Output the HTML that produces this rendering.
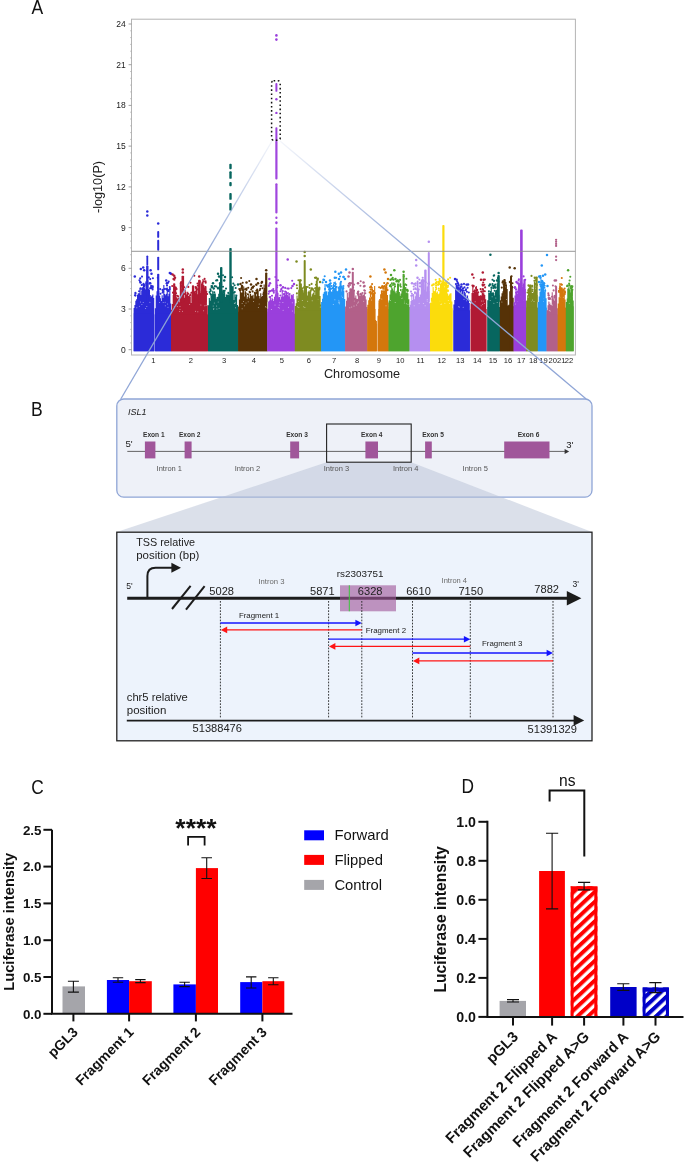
<!DOCTYPE html>
<html lang="en"><head><meta charset="utf-8"><title>Figure</title>
<style>
html,body{margin:0;padding:0;background:#fff;}
body{width:685px;height:1164px;overflow:hidden;}
svg{display:block;font-family:"Liberation Sans", Arial, sans-serif;}
</style></head><body>
<svg width="685" height="1164" viewBox="0 0 685 1164">
<rect width="685" height="1164" fill="#fff"/>
<g id="panelA">
<rect x="131.5" y="19.2" width="443.9" height="335.8" fill="#fff" stroke="#b4b4b4" stroke-width="1"/>
<line x1="128.6" y1="349.7" x2="131.5" y2="349.7" stroke="#8a8a8a" stroke-width="0.8"/>
<text x="125.8" y="352.7" font-size="8.5" text-anchor="end" fill="#1a1a1a">0</text>
<line x1="130" y1="342.9" x2="131.5" y2="342.9" stroke="#a8a8a8" stroke-width="0.6"/>
<line x1="130" y1="336.1" x2="131.5" y2="336.1" stroke="#a8a8a8" stroke-width="0.6"/>
<line x1="130" y1="329.3" x2="131.5" y2="329.3" stroke="#a8a8a8" stroke-width="0.6"/>
<line x1="130" y1="322.6" x2="131.5" y2="322.6" stroke="#a8a8a8" stroke-width="0.6"/>
<line x1="130" y1="315.8" x2="131.5" y2="315.8" stroke="#a8a8a8" stroke-width="0.6"/>
<line x1="128.6" y1="309.0" x2="131.5" y2="309.0" stroke="#8a8a8a" stroke-width="0.8"/>
<text x="125.8" y="312.0" font-size="8.5" text-anchor="end" fill="#1a1a1a">3</text>
<line x1="130" y1="302.2" x2="131.5" y2="302.2" stroke="#a8a8a8" stroke-width="0.6"/>
<line x1="130" y1="295.4" x2="131.5" y2="295.4" stroke="#a8a8a8" stroke-width="0.6"/>
<line x1="130" y1="288.6" x2="131.5" y2="288.6" stroke="#a8a8a8" stroke-width="0.6"/>
<line x1="130" y1="281.9" x2="131.5" y2="281.9" stroke="#a8a8a8" stroke-width="0.6"/>
<line x1="130" y1="275.1" x2="131.5" y2="275.1" stroke="#a8a8a8" stroke-width="0.6"/>
<line x1="128.6" y1="268.3" x2="131.5" y2="268.3" stroke="#8a8a8a" stroke-width="0.8"/>
<text x="125.8" y="271.3" font-size="8.5" text-anchor="end" fill="#1a1a1a">6</text>
<line x1="130" y1="261.5" x2="131.5" y2="261.5" stroke="#a8a8a8" stroke-width="0.6"/>
<line x1="130" y1="254.7" x2="131.5" y2="254.7" stroke="#a8a8a8" stroke-width="0.6"/>
<line x1="130" y1="247.9" x2="131.5" y2="247.9" stroke="#a8a8a8" stroke-width="0.6"/>
<line x1="130" y1="241.1" x2="131.5" y2="241.1" stroke="#a8a8a8" stroke-width="0.6"/>
<line x1="130" y1="234.4" x2="131.5" y2="234.4" stroke="#a8a8a8" stroke-width="0.6"/>
<line x1="128.6" y1="227.6" x2="131.5" y2="227.6" stroke="#8a8a8a" stroke-width="0.8"/>
<text x="125.8" y="230.6" font-size="8.5" text-anchor="end" fill="#1a1a1a">9</text>
<line x1="130" y1="220.8" x2="131.5" y2="220.8" stroke="#a8a8a8" stroke-width="0.6"/>
<line x1="130" y1="214.0" x2="131.5" y2="214.0" stroke="#a8a8a8" stroke-width="0.6"/>
<line x1="130" y1="207.2" x2="131.5" y2="207.2" stroke="#a8a8a8" stroke-width="0.6"/>
<line x1="130" y1="200.4" x2="131.5" y2="200.4" stroke="#a8a8a8" stroke-width="0.6"/>
<line x1="130" y1="193.6" x2="131.5" y2="193.6" stroke="#a8a8a8" stroke-width="0.6"/>
<line x1="128.6" y1="186.9" x2="131.5" y2="186.9" stroke="#8a8a8a" stroke-width="0.8"/>
<text x="125.8" y="189.9" font-size="8.5" text-anchor="end" fill="#1a1a1a">12</text>
<line x1="130" y1="180.1" x2="131.5" y2="180.1" stroke="#a8a8a8" stroke-width="0.6"/>
<line x1="130" y1="173.3" x2="131.5" y2="173.3" stroke="#a8a8a8" stroke-width="0.6"/>
<line x1="130" y1="166.5" x2="131.5" y2="166.5" stroke="#a8a8a8" stroke-width="0.6"/>
<line x1="130" y1="159.7" x2="131.5" y2="159.7" stroke="#a8a8a8" stroke-width="0.6"/>
<line x1="130" y1="152.9" x2="131.5" y2="152.9" stroke="#a8a8a8" stroke-width="0.6"/>
<line x1="128.6" y1="146.1" x2="131.5" y2="146.1" stroke="#8a8a8a" stroke-width="0.8"/>
<text x="125.8" y="149.1" font-size="8.5" text-anchor="end" fill="#1a1a1a">15</text>
<line x1="130" y1="139.4" x2="131.5" y2="139.4" stroke="#a8a8a8" stroke-width="0.6"/>
<line x1="130" y1="132.6" x2="131.5" y2="132.6" stroke="#a8a8a8" stroke-width="0.6"/>
<line x1="130" y1="125.8" x2="131.5" y2="125.8" stroke="#a8a8a8" stroke-width="0.6"/>
<line x1="130" y1="119.0" x2="131.5" y2="119.0" stroke="#a8a8a8" stroke-width="0.6"/>
<line x1="130" y1="112.2" x2="131.5" y2="112.2" stroke="#a8a8a8" stroke-width="0.6"/>
<line x1="128.6" y1="105.4" x2="131.5" y2="105.4" stroke="#8a8a8a" stroke-width="0.8"/>
<text x="125.8" y="108.4" font-size="8.5" text-anchor="end" fill="#1a1a1a">18</text>
<line x1="130" y1="98.7" x2="131.5" y2="98.7" stroke="#a8a8a8" stroke-width="0.6"/>
<line x1="130" y1="91.9" x2="131.5" y2="91.9" stroke="#a8a8a8" stroke-width="0.6"/>
<line x1="130" y1="85.1" x2="131.5" y2="85.1" stroke="#a8a8a8" stroke-width="0.6"/>
<line x1="130" y1="78.3" x2="131.5" y2="78.3" stroke="#a8a8a8" stroke-width="0.6"/>
<line x1="130" y1="71.5" x2="131.5" y2="71.5" stroke="#a8a8a8" stroke-width="0.6"/>
<line x1="128.6" y1="64.7" x2="131.5" y2="64.7" stroke="#8a8a8a" stroke-width="0.8"/>
<text x="125.8" y="67.7" font-size="8.5" text-anchor="end" fill="#1a1a1a">21</text>
<line x1="130" y1="57.9" x2="131.5" y2="57.9" stroke="#a8a8a8" stroke-width="0.6"/>
<line x1="130" y1="51.2" x2="131.5" y2="51.2" stroke="#a8a8a8" stroke-width="0.6"/>
<line x1="130" y1="44.4" x2="131.5" y2="44.4" stroke="#a8a8a8" stroke-width="0.6"/>
<line x1="130" y1="37.6" x2="131.5" y2="37.6" stroke="#a8a8a8" stroke-width="0.6"/>
<line x1="130" y1="30.8" x2="131.5" y2="30.8" stroke="#a8a8a8" stroke-width="0.6"/>
<line x1="128.6" y1="24.0" x2="131.5" y2="24.0" stroke="#8a8a8a" stroke-width="0.8"/>
<text x="125.8" y="27.0" font-size="8.5" text-anchor="end" fill="#1a1a1a">24</text>
<text transform="translate(102.2,187) rotate(-90)" font-size="12.7" text-anchor="middle" fill="#222">-log10(P)</text>
<text x="153.4" y="363" font-size="7.6" text-anchor="middle" fill="#222">1</text>
<text x="190.8" y="363" font-size="7.6" text-anchor="middle" fill="#222">2</text>
<text x="224.0" y="363" font-size="7.6" text-anchor="middle" fill="#222">3</text>
<text x="253.8" y="363" font-size="7.6" text-anchor="middle" fill="#222">4</text>
<text x="281.8" y="363" font-size="7.6" text-anchor="middle" fill="#222">5</text>
<text x="308.8" y="363" font-size="7.6" text-anchor="middle" fill="#222">6</text>
<text x="334.0" y="363" font-size="7.6" text-anchor="middle" fill="#222">7</text>
<text x="357.0" y="363" font-size="7.6" text-anchor="middle" fill="#222">8</text>
<text x="378.8" y="363" font-size="7.6" text-anchor="middle" fill="#222">9</text>
<text x="400.2" y="363" font-size="7.6" text-anchor="middle" fill="#222">10</text>
<text x="420.5" y="363" font-size="7.6" text-anchor="middle" fill="#222">11</text>
<text x="441.8" y="363" font-size="7.6" text-anchor="middle" fill="#222">12</text>
<text x="460.2" y="363" font-size="7.6" text-anchor="middle" fill="#222">13</text>
<text x="477.3" y="363" font-size="7.6" text-anchor="middle" fill="#222">14</text>
<text x="493.0" y="363" font-size="7.6" text-anchor="middle" fill="#222">15</text>
<text x="508.0" y="363" font-size="7.6" text-anchor="middle" fill="#222">16</text>
<text x="521.2" y="363" font-size="7.6" text-anchor="middle" fill="#222">17</text>
<text x="533.2" y="363" font-size="7.6" text-anchor="middle" fill="#222">18</text>
<text x="543.6" y="363" font-size="7.6" text-anchor="middle" fill="#222">19</text>
<text x="552.8" y="363" font-size="7.6" text-anchor="middle" fill="#222">20</text>
<text x="561.2" y="363" font-size="7.6" text-anchor="middle" fill="#222">21</text>
<text x="569.0" y="363" font-size="7.6" text-anchor="middle" fill="#222">22</text>
<text x="362.0" y="377.6" font-size="12.7" text-anchor="middle" fill="#222">Chromosome</text>
<path d="M133.6 351.2V308.0h1.1V351.2zM134.4 351.2V305.0h1.1V351.2zM135.3 351.2V300.7h1.1V351.2zM136.1 351.2V299.3h1.1V351.2zM137.0 351.2V294.8h1.1V351.2zM137.8 351.2V293.3h1.1V351.2zM138.7 351.2V293.3h1.1V351.2zM139.5 351.2V289.1h1.1V351.2zM140.4 351.2V295.1h1.1V351.2zM141.2 351.2V291.0h1.1V351.2zM142.1 351.2V287.2h1.1V351.2zM142.9 351.2V283.6h1.1V351.2zM143.8 351.2V288.1h1.1V351.2zM144.6 351.2V289.4h1.1V351.2zM145.5 351.2V281.2h1.1V351.2zM146.3 351.2V283.2h1.1V351.2zM147.2 351.2V280.4h1.1V351.2zM148.0 351.2V289.1h1.1V351.2zM148.9 351.2V289.4h1.1V351.2zM149.7 351.2V295.1h1.1V351.2zM150.6 351.2V296.7h1.1V351.2zM151.4 351.2V295.7h1.1V351.2zM152.3 351.2V294.4h1.1V351.2zM153.1 351.2V297.9h1.1V351.2zM154.8 351.2V308.3h1.1V351.2zM155.7 351.2V295.5h1.1V351.2zM156.5 351.2V291.2h1.1V351.2zM157.4 351.2V291.3h1.1V351.2zM158.2 351.2V291.2h1.1V351.2zM159.1 351.2V295.8h1.1V351.2zM159.9 351.2V298.3h1.1V351.2zM160.8 351.2V300.9h1.1V351.2zM161.6 351.2V295.2h1.1V351.2zM162.5 351.2V298.1h1.1V351.2zM163.3 351.2V284.9h1.1V351.2zM164.2 351.2V294.1h1.1V351.2zM165.0 351.2V295.3h1.1V351.2zM165.9 351.2V293.8h1.1V351.2zM166.7 351.2V287.6h1.1V351.2zM167.6 351.2V296.3h1.1V351.2zM168.4 351.2V293.7h1.1V351.2zM169.3 351.2V287.3h1.1V351.2zM170.1 351.2V303.5h1.1V351.2z" fill="#2b2bd8"/>
<rect x="133.8" y="313.2" width="19.9" height="38.0" fill="#2b2bd8"/>
<rect x="155.9" y="313.2" width="15.3" height="38.0" fill="#2b2bd8"/>
<rect x="153.5" y="314.4" width="0.8" height="36.8" fill="#2b2bd8"/>
<rect x="155.2" y="314.4" width="0.9" height="36.8" fill="#2b2bd8"/>
<g fill="#2b2bd8"><circle cx="147.4" cy="293.5" r="1.05"/><circle cx="144.7" cy="285.1" r="1.05"/><circle cx="168.7" cy="281.6" r="1.05"/><circle cx="169.8" cy="287.0" r="1.05"/><circle cx="142.6" cy="290.2" r="1.05"/><circle cx="142.0" cy="276.6" r="1.05"/><circle cx="164.6" cy="289.0" r="1.05"/><circle cx="163.1" cy="291.6" r="1.05"/><circle cx="167.0" cy="285.4" r="1.05"/><circle cx="151.7" cy="288.1" r="1.05"/><circle cx="148.8" cy="277.4" r="1.05"/><circle cx="160.5" cy="293.8" r="1.05"/><circle cx="140.2" cy="278.4" r="1.05"/><circle cx="158.1" cy="287.8" r="1.05"/><circle cx="139.4" cy="280.3" r="1.05"/><circle cx="157.8" cy="277.8" r="1.05"/><circle cx="150.2" cy="279.1" r="1.05"/><circle cx="142.3" cy="289.5" r="1.05"/><circle cx="143.3" cy="284.8" r="1.05"/><circle cx="149.6" cy="283.4" r="1.05"/><circle cx="147.3" cy="284.2" r="1.05"/><circle cx="166.8" cy="283.2" r="1.05"/><circle cx="152.6" cy="289.4" r="1.05"/><circle cx="135.5" cy="295.6" r="1.05"/><circle cx="134.9" cy="295.2" r="1.05"/><circle cx="151.6" cy="286.7" r="1.05"/><circle cx="146.3" cy="283.2" r="1.05"/><circle cx="162.6" cy="292.5" r="1.05"/><circle cx="143.6" cy="283.8" r="1.05"/><circle cx="152.8" cy="286.4" r="1.05"/><circle cx="167.1" cy="289.6" r="1.05"/><circle cx="152.7" cy="287.8" r="1.05"/><circle cx="150.8" cy="288.1" r="1.05"/><circle cx="168.1" cy="282.8" r="1.05"/><circle cx="168.2" cy="291.3" r="1.05"/><circle cx="168.2" cy="290.0" r="1.05"/><circle cx="139.1" cy="291.2" r="1.05"/><circle cx="143.3" cy="288.2" r="1.05"/><circle cx="162.6" cy="290.0" r="1.05"/><circle cx="160.2" cy="289.1" r="1.05"/><circle cx="166.1" cy="288.9" r="1.05"/><circle cx="168.5" cy="290.9" r="1.05"/><circle cx="169.8" cy="289.1" r="1.05"/><circle cx="150.1" cy="288.3" r="1.05"/><circle cx="141.7" cy="285.0" r="1.05"/><circle cx="135.5" cy="293.6" r="1.05"/><circle cx="135.4" cy="292.7" r="1.05"/><circle cx="152.9" cy="278.3" r="1.05"/><circle cx="162.7" cy="289.8" r="1.05"/><circle cx="144.2" cy="286.8" r="1.05"/><circle cx="144.4" cy="289.6" r="1.05"/><circle cx="167.1" cy="289.7" r="1.05"/><circle cx="140.1" cy="281.7" r="1.05"/></g>
<g fill="#fff" fill-opacity="0.6"><circle cx="159.6" cy="302.5" r="0.5"/><circle cx="136.8" cy="307.7" r="0.5"/><circle cx="149.9" cy="302.3" r="0.5"/><circle cx="168.0" cy="307.3" r="0.5"/><circle cx="163.2" cy="302.4" r="0.5"/><circle cx="165.1" cy="302.2" r="0.5"/><circle cx="165.3" cy="305.7" r="0.5"/><circle cx="146.8" cy="306.5" r="0.5"/><circle cx="167.6" cy="304.0" r="0.5"/><circle cx="139.4" cy="306.3" r="0.5"/><circle cx="143.2" cy="302.6" r="0.5"/><circle cx="140.5" cy="302.1" r="0.5"/><circle cx="141.9" cy="304.4" r="0.5"/><circle cx="145.6" cy="308.4" r="0.5"/></g>
<path d="M171.0 351.2V309.8h1.1V351.2zM171.8 351.2V304.0h1.1V351.2zM172.7 351.2V294.9h1.1V351.2zM173.5 351.2V286.8h1.1V351.2zM174.4 351.2V286.2h1.1V351.2zM175.2 351.2V287.0h1.1V351.2zM176.1 351.2V297.2h1.1V351.2zM176.9 351.2V298.4h1.1V351.2zM177.8 351.2V297.6h1.1V351.2zM178.6 351.2V302.2h1.1V351.2zM179.5 351.2V299.7h1.1V351.2zM180.3 351.2V297.0h1.1V351.2zM181.2 351.2V297.9h1.1V351.2zM182.0 351.2V294.2h1.1V351.2zM182.9 351.2V296.7h1.1V351.2zM183.7 351.2V297.7h1.1V351.2zM184.6 351.2V289.7h1.1V351.2zM185.4 351.2V291.7h1.1V351.2zM186.3 351.2V295.0h1.1V351.2zM187.1 351.2V291.7h1.1V351.2zM188.0 351.2V296.1h1.1V351.2zM188.8 351.2V295.7h1.1V351.2zM189.7 351.2V297.0h1.1V351.2zM190.5 351.2V303.0h1.1V351.2zM191.4 351.2V294.8h1.1V351.2zM192.2 351.2V294.1h1.1V351.2zM193.1 351.2V285.9h1.1V351.2zM193.9 351.2V291.2h1.1V351.2zM194.8 351.2V293.6h1.1V351.2zM195.6 351.2V286.5h1.1V351.2zM196.5 351.2V286.7h1.1V351.2zM197.3 351.2V294.3h1.1V351.2zM198.2 351.2V289.2h1.1V351.2zM199.0 351.2V291.6h1.1V351.2zM199.9 351.2V292.9h1.1V351.2zM200.7 351.2V290.9h1.1V351.2zM201.6 351.2V281.8h1.1V351.2zM202.4 351.2V279.1h1.1V351.2zM203.3 351.2V286.0h1.1V351.2zM204.1 351.2V287.5h1.1V351.2zM205.0 351.2V286.2h1.1V351.2zM205.8 351.2V291.3h1.1V351.2zM206.7 351.2V305.2h1.1V351.2z" fill="#b01a33"/>
<rect x="171.2" y="314.4" width="37.0" height="36.8" fill="#b01a33"/>
<g fill="#b01a33"><circle cx="182.8" cy="292.5" r="1.05"/><circle cx="183.3" cy="286.2" r="1.05"/><circle cx="198.5" cy="285.8" r="1.05"/><circle cx="204.6" cy="278.9" r="1.05"/><circle cx="182.3" cy="289.8" r="1.05"/><circle cx="207.2" cy="294.0" r="1.05"/><circle cx="187.2" cy="295.0" r="1.05"/><circle cx="175.8" cy="287.6" r="1.05"/><circle cx="204.9" cy="292.8" r="1.05"/><circle cx="190.1" cy="295.6" r="1.05"/><circle cx="205.7" cy="282.8" r="1.05"/><circle cx="194.3" cy="275.7" r="1.05"/><circle cx="191.4" cy="292.8" r="1.05"/><circle cx="197.8" cy="285.5" r="1.05"/><circle cx="194.8" cy="293.8" r="1.05"/><circle cx="204.6" cy="292.2" r="1.05"/><circle cx="184.2" cy="287.2" r="1.05"/><circle cx="206.4" cy="291.7" r="1.05"/><circle cx="182.7" cy="287.4" r="1.05"/><circle cx="178.1" cy="296.2" r="1.05"/><circle cx="203.9" cy="288.8" r="1.05"/><circle cx="203.9" cy="281.4" r="1.05"/><circle cx="177.1" cy="295.8" r="1.05"/><circle cx="184.2" cy="294.0" r="1.05"/><circle cx="181.2" cy="282.1" r="1.05"/><circle cx="198.4" cy="289.0" r="1.05"/><circle cx="190.5" cy="294.6" r="1.05"/><circle cx="174.4" cy="279.8" r="1.05"/><circle cx="176.6" cy="289.0" r="1.05"/><circle cx="202.4" cy="291.0" r="1.05"/><circle cx="180.9" cy="291.0" r="1.05"/><circle cx="205.6" cy="281.2" r="1.05"/><circle cx="173.0" cy="292.6" r="1.05"/><circle cx="203.5" cy="286.0" r="1.05"/><circle cx="172.2" cy="286.0" r="1.05"/><circle cx="180.9" cy="295.4" r="1.05"/><circle cx="190.5" cy="282.7" r="1.05"/><circle cx="197.5" cy="283.5" r="1.05"/><circle cx="188.2" cy="293.8" r="1.05"/><circle cx="199.6" cy="281.9" r="1.05"/><circle cx="194.8" cy="293.2" r="1.05"/><circle cx="181.0" cy="286.1" r="1.05"/><circle cx="176.1" cy="293.2" r="1.05"/><circle cx="192.6" cy="292.4" r="1.05"/><circle cx="193.2" cy="295.0" r="1.05"/><circle cx="188.3" cy="286.9" r="1.05"/><circle cx="203.1" cy="288.2" r="1.05"/><circle cx="180.8" cy="283.5" r="1.05"/><circle cx="183.0" cy="292.7" r="1.05"/><circle cx="195.8" cy="291.7" r="1.05"/><circle cx="195.6" cy="287.1" r="1.05"/><circle cx="173.4" cy="292.8" r="1.05"/><circle cx="196.1" cy="288.2" r="1.05"/><circle cx="198.1" cy="289.6" r="1.05"/></g>
<g fill="#fff" fill-opacity="0.6"><circle cx="206.1" cy="305.6" r="0.5"/><circle cx="200.9" cy="304.9" r="0.5"/><circle cx="180.0" cy="309.6" r="0.5"/><circle cx="182.5" cy="311.3" r="0.5"/><circle cx="189.6" cy="304.5" r="0.5"/><circle cx="180.0" cy="306.6" r="0.5"/><circle cx="195.5" cy="311.3" r="0.5"/><circle cx="177.3" cy="306.4" r="0.5"/><circle cx="179.7" cy="311.5" r="0.5"/><circle cx="177.2" cy="303.3" r="0.5"/><circle cx="174.3" cy="306.4" r="0.5"/><circle cx="203.6" cy="310.7" r="0.5"/><circle cx="197.8" cy="311.7" r="0.5"/><circle cx="204.8" cy="305.8" r="0.5"/></g>
<path d="M208.0 351.2V305.2h1.1V351.2zM208.8 351.2V298.1h1.1V351.2zM209.7 351.2V300.7h1.1V351.2zM210.5 351.2V295.6h1.1V351.2zM211.4 351.2V294.2h1.1V351.2zM212.2 351.2V290.8h1.1V351.2zM213.1 351.2V293.5h1.1V351.2zM213.9 351.2V294.9h1.1V351.2zM214.8 351.2V295.0h1.1V351.2zM215.6 351.2V298.8h1.1V351.2zM216.5 351.2V296.9h1.1V351.2zM217.3 351.2V296.7h1.1V351.2zM218.2 351.2V293.7h1.1V351.2zM219.0 351.2V282.3h1.1V351.2zM219.9 351.2V289.2h1.1V351.2zM220.7 351.2V285.3h1.1V351.2zM221.6 351.2V291.0h1.1V351.2zM222.4 351.2V293.4h1.1V351.2zM223.3 351.2V291.8h1.1V351.2zM224.1 351.2V292.2h1.1V351.2zM225.0 351.2V297.1h1.1V351.2zM225.8 351.2V294.4h1.1V351.2zM226.7 351.2V294.5h1.1V351.2zM227.5 351.2V295.0h1.1V351.2zM228.4 351.2V293.3h1.1V351.2zM229.2 351.2V295.2h1.1V351.2zM230.1 351.2V283.4h1.1V351.2zM230.9 351.2V285.4h1.1V351.2zM231.8 351.2V286.3h1.1V351.2zM232.6 351.2V286.1h1.1V351.2zM233.5 351.2V300.0h1.1V351.2zM234.3 351.2V294.2h1.1V351.2zM235.2 351.2V296.4h1.1V351.2zM236.0 351.2V296.0h1.1V351.2zM236.9 351.2V305.0h1.1V351.2z" fill="#07665f"/>
<rect x="208.2" y="313.2" width="30.1" height="38.0" fill="#07665f"/>
<g fill="#07665f"><circle cx="216.4" cy="286.6" r="1.05"/><circle cx="214.9" cy="294.4" r="1.05"/><circle cx="228.3" cy="292.9" r="1.05"/><circle cx="214.9" cy="286.3" r="1.05"/><circle cx="211.0" cy="294.7" r="1.05"/><circle cx="224.7" cy="290.7" r="1.05"/><circle cx="213.8" cy="288.3" r="1.05"/><circle cx="217.2" cy="280.2" r="1.05"/><circle cx="218.0" cy="288.4" r="1.05"/><circle cx="219.4" cy="287.3" r="1.05"/><circle cx="214.9" cy="286.3" r="1.05"/><circle cx="221.1" cy="283.0" r="1.05"/><circle cx="234.0" cy="292.7" r="1.05"/><circle cx="209.6" cy="292.1" r="1.05"/><circle cx="234.8" cy="292.0" r="1.05"/><circle cx="219.6" cy="288.7" r="1.05"/><circle cx="217.2" cy="280.3" r="1.05"/><circle cx="212.3" cy="286.2" r="1.05"/><circle cx="236.4" cy="295.5" r="1.05"/><circle cx="235.7" cy="288.0" r="1.05"/><circle cx="210.7" cy="290.9" r="1.05"/><circle cx="234.6" cy="285.2" r="1.05"/><circle cx="213.7" cy="288.8" r="1.05"/><circle cx="220.6" cy="277.5" r="1.05"/><circle cx="214.3" cy="292.2" r="1.05"/><circle cx="223.8" cy="291.7" r="1.05"/><circle cx="216.1" cy="280.5" r="1.05"/><circle cx="210.4" cy="289.3" r="1.05"/><circle cx="210.3" cy="293.7" r="1.05"/><circle cx="226.0" cy="288.6" r="1.05"/><circle cx="217.8" cy="288.1" r="1.05"/><circle cx="221.2" cy="284.6" r="1.05"/><circle cx="221.5" cy="290.4" r="1.05"/><circle cx="223.0" cy="286.8" r="1.05"/><circle cx="231.1" cy="290.2" r="1.05"/><circle cx="222.5" cy="293.3" r="1.05"/><circle cx="221.3" cy="291.2" r="1.05"/><circle cx="223.5" cy="290.9" r="1.05"/><circle cx="211.5" cy="286.1" r="1.05"/><circle cx="223.6" cy="292.1" r="1.05"/><circle cx="219.8" cy="283.6" r="1.05"/><circle cx="233.3" cy="283.6" r="1.05"/><circle cx="232.1" cy="277.3" r="1.05"/><circle cx="223.0" cy="275.2" r="1.05"/></g>
<g fill="#fff" fill-opacity="0.6"><circle cx="213.8" cy="308.6" r="0.5"/><circle cx="235.3" cy="302.2" r="0.5"/><circle cx="219.1" cy="308.3" r="0.5"/><circle cx="213.7" cy="309.6" r="0.5"/><circle cx="216.9" cy="308.9" r="0.5"/><circle cx="213.2" cy="306.1" r="0.5"/><circle cx="235.0" cy="303.5" r="0.5"/><circle cx="216.6" cy="306.1" r="0.5"/><circle cx="218.2" cy="302.0" r="0.5"/><circle cx="214.3" cy="303.1" r="0.5"/><circle cx="235.5" cy="307.7" r="0.5"/><circle cx="234.4" cy="303.2" r="0.5"/></g>
<path d="M238.1 351.2V306.4h1.1V351.2zM238.9 351.2V299.6h1.1V351.2zM239.8 351.2V291.2h1.1V351.2zM240.6 351.2V292.5h1.1V351.2zM241.5 351.2V292.6h1.1V351.2zM242.3 351.2V289.4h1.1V351.2zM243.2 351.2V286.5h1.1V351.2zM244.0 351.2V296.6h1.1V351.2zM244.9 351.2V291.3h1.1V351.2zM245.7 351.2V294.5h1.1V351.2zM246.6 351.2V298.7h1.1V351.2zM247.4 351.2V296.7h1.1V351.2zM248.3 351.2V294.2h1.1V351.2zM249.1 351.2V298.3h1.1V351.2zM250.0 351.2V294.1h1.1V351.2zM250.8 351.2V295.8h1.1V351.2zM251.7 351.2V295.7h1.1V351.2zM252.5 351.2V294.8h1.1V351.2zM253.4 351.2V298.4h1.1V351.2zM254.2 351.2V292.4h1.1V351.2zM255.1 351.2V292.9h1.1V351.2zM255.9 351.2V296.2h1.1V351.2zM256.8 351.2V289.6h1.1V351.2zM257.6 351.2V290.6h1.1V351.2zM258.5 351.2V296.1h1.1V351.2zM259.3 351.2V298.4h1.1V351.2zM260.2 351.2V293.3h1.1V351.2zM261.1 351.2V296.8h1.1V351.2zM261.9 351.2V295.9h1.1V351.2zM262.8 351.2V291.4h1.1V351.2zM263.6 351.2V284.5h1.1V351.2zM264.5 351.2V288.0h1.1V351.2zM265.3 351.2V282.6h1.1V351.2zM266.2 351.2V297.8h1.1V351.2z" fill="#563207"/>
<rect x="238.3" y="311.7" width="29.1" height="39.5" fill="#563207"/>
<g fill="#563207"><circle cx="262.5" cy="288.3" r="1.05"/><circle cx="254.8" cy="292.7" r="1.05"/><circle cx="256.2" cy="284.5" r="1.05"/><circle cx="243.2" cy="294.7" r="1.05"/><circle cx="264.5" cy="290.4" r="1.05"/><circle cx="240.1" cy="290.2" r="1.05"/><circle cx="256.5" cy="285.0" r="1.05"/><circle cx="241.1" cy="288.6" r="1.05"/><circle cx="261.5" cy="282.9" r="1.05"/><circle cx="241.1" cy="278.0" r="1.05"/><circle cx="264.9" cy="291.7" r="1.05"/><circle cx="242.3" cy="286.8" r="1.05"/><circle cx="261.3" cy="285.8" r="1.05"/><circle cx="256.4" cy="292.9" r="1.05"/><circle cx="242.0" cy="288.2" r="1.05"/><circle cx="247.9" cy="294.3" r="1.05"/><circle cx="246.3" cy="289.2" r="1.05"/><circle cx="249.3" cy="281.0" r="1.05"/><circle cx="253.0" cy="287.7" r="1.05"/><circle cx="240.1" cy="290.4" r="1.05"/><circle cx="260.2" cy="288.9" r="1.05"/><circle cx="253.9" cy="286.2" r="1.05"/><circle cx="241.8" cy="287.8" r="1.05"/><circle cx="239.3" cy="289.1" r="1.05"/><circle cx="265.8" cy="290.3" r="1.05"/><circle cx="252.6" cy="291.4" r="1.05"/><circle cx="252.7" cy="286.8" r="1.05"/><circle cx="246.4" cy="289.9" r="1.05"/><circle cx="245.1" cy="289.2" r="1.05"/><circle cx="242.3" cy="289.9" r="1.05"/><circle cx="260.7" cy="285.9" r="1.05"/><circle cx="256.3" cy="290.8" r="1.05"/><circle cx="250.0" cy="292.5" r="1.05"/><circle cx="263.4" cy="294.3" r="1.05"/><circle cx="246.4" cy="288.6" r="1.05"/><circle cx="249.6" cy="291.8" r="1.05"/><circle cx="251.8" cy="288.0" r="1.05"/><circle cx="259.7" cy="290.3" r="1.05"/><circle cx="248.2" cy="287.7" r="1.05"/><circle cx="257.2" cy="289.6" r="1.05"/><circle cx="251.2" cy="289.5" r="1.05"/><circle cx="242.7" cy="282.7" r="1.05"/><circle cx="245.7" cy="293.4" r="1.05"/></g>
<g fill="#fff" fill-opacity="0.6"><circle cx="258.4" cy="307.6" r="0.5"/><circle cx="243.5" cy="301.5" r="0.5"/><circle cx="246.0" cy="303.0" r="0.5"/><circle cx="253.5" cy="301.6" r="0.5"/><circle cx="248.2" cy="301.8" r="0.5"/><circle cx="265.7" cy="306.6" r="0.5"/><circle cx="242.1" cy="308.7" r="0.5"/><circle cx="242.1" cy="303.6" r="0.5"/><circle cx="266.0" cy="307.2" r="0.5"/><circle cx="259.2" cy="304.0" r="0.5"/><circle cx="244.6" cy="305.8" r="0.5"/></g>
<path d="M267.2 351.2V308.8h1.1V351.2zM268.1 351.2V301.6h1.1V351.2zM268.9 351.2V300.4h1.1V351.2zM269.8 351.2V296.0h1.1V351.2zM270.6 351.2V300.2h1.1V351.2zM271.5 351.2V297.8h1.1V351.2zM272.3 351.2V298.9h1.1V351.2zM273.2 351.2V301.0h1.1V351.2zM274.0 351.2V296.7h1.1V351.2zM274.9 351.2V294.3h1.1V351.2zM275.7 351.2V294.5h1.1V351.2zM276.6 351.2V291.1h1.1V351.2zM277.4 351.2V292.8h1.1V351.2zM278.3 351.2V297.3h1.1V351.2zM279.1 351.2V297.1h1.1V351.2zM280.0 351.2V299.5h1.1V351.2zM280.8 351.2V296.7h1.1V351.2zM281.7 351.2V291.4h1.1V351.2zM282.5 351.2V297.0h1.1V351.2zM283.4 351.2V296.1h1.1V351.2zM284.2 351.2V292.4h1.1V351.2zM285.1 351.2V294.4h1.1V351.2zM285.9 351.2V291.3h1.1V351.2zM286.8 351.2V295.1h1.1V351.2zM287.6 351.2V291.9h1.1V351.2zM288.5 351.2V296.6h1.1V351.2zM289.3 351.2V295.1h1.1V351.2zM290.2 351.2V298.8h1.1V351.2zM291.0 351.2V294.8h1.1V351.2zM291.9 351.2V295.2h1.1V351.2zM292.7 351.2V294.1h1.1V351.2zM293.6 351.2V299.2h1.1V351.2z" fill="#9a3fdc"/>
<rect x="267.4" y="313.7" width="27.6" height="37.5" fill="#9a3fdc"/>
<g fill="#9a3fdc"><circle cx="272.0" cy="290.3" r="1.05"/><circle cx="268.8" cy="285.9" r="1.05"/><circle cx="285.2" cy="298.6" r="1.05"/><circle cx="272.1" cy="290.8" r="1.05"/><circle cx="277.3" cy="285.5" r="1.05"/><circle cx="288.7" cy="288.6" r="1.05"/><circle cx="284.0" cy="294.0" r="1.05"/><circle cx="291.3" cy="288.1" r="1.05"/><circle cx="273.5" cy="290.8" r="1.05"/><circle cx="287.4" cy="288.5" r="1.05"/><circle cx="282.6" cy="298.2" r="1.05"/><circle cx="272.0" cy="295.8" r="1.05"/><circle cx="280.4" cy="295.5" r="1.05"/><circle cx="281.2" cy="289.7" r="1.05"/><circle cx="268.6" cy="293.7" r="1.05"/><circle cx="282.8" cy="291.1" r="1.05"/><circle cx="278.0" cy="280.3" r="1.05"/><circle cx="270.3" cy="291.1" r="1.05"/><circle cx="269.1" cy="291.5" r="1.05"/><circle cx="292.2" cy="280.8" r="1.05"/><circle cx="281.5" cy="288.8" r="1.05"/><circle cx="269.3" cy="291.6" r="1.05"/><circle cx="277.1" cy="287.5" r="1.05"/><circle cx="280.5" cy="291.2" r="1.05"/><circle cx="273.8" cy="292.7" r="1.05"/><circle cx="282.6" cy="297.2" r="1.05"/><circle cx="289.6" cy="294.1" r="1.05"/><circle cx="275.4" cy="277.0" r="1.05"/><circle cx="285.2" cy="296.5" r="1.05"/><circle cx="276.5" cy="290.2" r="1.05"/><circle cx="284.7" cy="298.3" r="1.05"/><circle cx="286.9" cy="293.3" r="1.05"/><circle cx="269.7" cy="297.1" r="1.05"/><circle cx="273.3" cy="289.1" r="1.05"/><circle cx="285.2" cy="287.9" r="1.05"/><circle cx="284.1" cy="294.7" r="1.05"/><circle cx="286.2" cy="293.0" r="1.05"/><circle cx="273.8" cy="291.0" r="1.05"/><circle cx="287.9" cy="297.6" r="1.05"/><circle cx="269.3" cy="285.1" r="1.05"/><circle cx="285.2" cy="291.5" r="1.05"/></g>
<g fill="#fff" fill-opacity="0.6"><circle cx="288.5" cy="307.2" r="0.5"/><circle cx="275.0" cy="304.9" r="0.5"/><circle cx="279.2" cy="305.0" r="0.5"/><circle cx="279.4" cy="307.9" r="0.5"/><circle cx="292.3" cy="302.7" r="0.5"/><circle cx="282.9" cy="302.6" r="0.5"/><circle cx="271.4" cy="309.4" r="0.5"/><circle cx="283.1" cy="310.3" r="0.5"/><circle cx="279.8" cy="302.3" r="0.5"/><circle cx="278.3" cy="307.4" r="0.5"/><circle cx="292.4" cy="310.9" r="0.5"/></g>
<path d="M294.8 351.2V306.1h1.1V351.2zM295.7 351.2V303.2h1.1V351.2zM296.5 351.2V295.4h1.1V351.2zM297.4 351.2V298.5h1.1V351.2zM298.2 351.2V290.4h1.1V351.2zM299.1 351.2V280.7h1.1V351.2zM299.9 351.2V283.6h1.1V351.2zM300.8 351.2V283.4h1.1V351.2zM301.6 351.2V288.8h1.1V351.2zM302.5 351.2V290.5h1.1V351.2zM303.3 351.2V292.5h1.1V351.2zM304.2 351.2V290.1h1.1V351.2zM305.0 351.2V287.3h1.1V351.2zM305.9 351.2V286.0h1.1V351.2zM306.7 351.2V295.6h1.1V351.2zM307.6 351.2V291.7h1.1V351.2zM308.4 351.2V290.8h1.1V351.2zM309.3 351.2V291.7h1.1V351.2zM310.1 351.2V290.4h1.1V351.2zM311.0 351.2V296.5h1.1V351.2zM311.8 351.2V294.3h1.1V351.2zM312.7 351.2V293.0h1.1V351.2zM313.5 351.2V292.0h1.1V351.2zM314.4 351.2V295.1h1.1V351.2zM315.2 351.2V287.0h1.1V351.2zM316.1 351.2V284.9h1.1V351.2zM316.9 351.2V286.5h1.1V351.2zM317.8 351.2V288.5h1.1V351.2zM318.6 351.2V286.4h1.1V351.2zM319.5 351.2V296.1h1.1V351.2zM320.3 351.2V304.4h1.1V351.2z" fill="#7e8b21"/>
<rect x="295.0" y="310.3" width="26.3" height="40.9" fill="#7e8b21"/>
<g fill="#7e8b21"><circle cx="309.7" cy="288.0" r="1.05"/><circle cx="305.1" cy="286.9" r="1.05"/><circle cx="315.1" cy="288.3" r="1.05"/><circle cx="304.4" cy="286.7" r="1.05"/><circle cx="296.8" cy="285.3" r="1.05"/><circle cx="307.8" cy="287.0" r="1.05"/><circle cx="314.9" cy="277.7" r="1.05"/><circle cx="302.2" cy="290.9" r="1.05"/><circle cx="300.4" cy="290.8" r="1.05"/><circle cx="309.5" cy="285.1" r="1.05"/><circle cx="319.0" cy="288.2" r="1.05"/><circle cx="310.5" cy="291.0" r="1.05"/><circle cx="319.3" cy="289.4" r="1.05"/><circle cx="311.6" cy="283.9" r="1.05"/><circle cx="305.6" cy="286.9" r="1.05"/><circle cx="319.5" cy="288.1" r="1.05"/><circle cx="296.9" cy="293.4" r="1.05"/><circle cx="317.9" cy="278.5" r="1.05"/><circle cx="297.1" cy="288.2" r="1.05"/><circle cx="311.7" cy="288.3" r="1.05"/><circle cx="312.4" cy="288.7" r="1.05"/><circle cx="314.4" cy="291.3" r="1.05"/><circle cx="302.2" cy="288.2" r="1.05"/><circle cx="300.1" cy="288.8" r="1.05"/><circle cx="312.5" cy="288.8" r="1.05"/><circle cx="300.7" cy="280.4" r="1.05"/><circle cx="317.6" cy="289.5" r="1.05"/><circle cx="298.4" cy="280.2" r="1.05"/><circle cx="311.3" cy="289.8" r="1.05"/><circle cx="316.0" cy="284.7" r="1.05"/><circle cx="299.5" cy="290.2" r="1.05"/><circle cx="313.3" cy="290.0" r="1.05"/><circle cx="317.2" cy="288.5" r="1.05"/><circle cx="299.8" cy="281.7" r="1.05"/><circle cx="304.1" cy="287.7" r="1.05"/></g>
<g fill="#fff" fill-opacity="0.6"><circle cx="303.7" cy="306.8" r="0.5"/><circle cx="298.8" cy="307.4" r="0.5"/><circle cx="297.4" cy="306.7" r="0.5"/><circle cx="312.2" cy="300.7" r="0.5"/><circle cx="307.6" cy="301.3" r="0.5"/><circle cx="302.3" cy="300.6" r="0.5"/><circle cx="304.9" cy="307.6" r="0.5"/><circle cx="320.3" cy="307.0" r="0.5"/><circle cx="298.4" cy="301.4" r="0.5"/><circle cx="317.8" cy="299.3" r="0.5"/></g>
<path d="M321.1 351.2V301.9h1.1V351.2zM322.0 351.2V298.8h1.1V351.2zM322.8 351.2V293.8h1.1V351.2zM323.7 351.2V291.9h1.1V351.2zM324.5 351.2V284.0h1.1V351.2zM325.4 351.2V291.6h1.1V351.2zM326.2 351.2V291.3h1.1V351.2zM327.1 351.2V295.3h1.1V351.2zM327.9 351.2V291.7h1.1V351.2zM328.8 351.2V287.0h1.1V351.2zM329.6 351.2V288.1h1.1V351.2zM330.5 351.2V291.3h1.1V351.2zM331.3 351.2V292.0h1.1V351.2zM332.2 351.2V289.4h1.1V351.2zM333.0 351.2V284.1h1.1V351.2zM333.9 351.2V288.4h1.1V351.2zM334.7 351.2V281.4h1.1V351.2zM335.6 351.2V286.8h1.1V351.2zM336.4 351.2V290.7h1.1V351.2zM337.3 351.2V291.2h1.1V351.2zM338.1 351.2V289.4h1.1V351.2zM339.0 351.2V288.0h1.1V351.2zM339.8 351.2V292.1h1.1V351.2zM340.7 351.2V291.5h1.1V351.2zM341.5 351.2V287.5h1.1V351.2zM342.4 351.2V287.5h1.1V351.2zM343.2 351.2V290.6h1.1V351.2zM344.1 351.2V299.0h1.1V351.2z" fill="#2396f6"/>
<rect x="321.3" y="307.6" width="24.0" height="43.6" fill="#2396f6"/>
<g fill="#2396f6"><circle cx="339.4" cy="287.0" r="1.05"/><circle cx="340.0" cy="276.5" r="1.05"/><circle cx="340.9" cy="287.4" r="1.05"/><circle cx="343.4" cy="286.0" r="1.05"/><circle cx="331.6" cy="286.0" r="1.05"/><circle cx="334.0" cy="289.1" r="1.05"/><circle cx="333.4" cy="291.1" r="1.05"/><circle cx="343.6" cy="276.7" r="1.05"/><circle cx="336.2" cy="277.7" r="1.05"/><circle cx="341.8" cy="286.6" r="1.05"/><circle cx="328.1" cy="286.7" r="1.05"/><circle cx="334.2" cy="283.0" r="1.05"/><circle cx="327.8" cy="286.6" r="1.05"/><circle cx="343.2" cy="288.8" r="1.05"/><circle cx="336.5" cy="286.9" r="1.05"/><circle cx="343.3" cy="288.0" r="1.05"/><circle cx="332.6" cy="288.1" r="1.05"/><circle cx="325.0" cy="289.0" r="1.05"/><circle cx="331.2" cy="288.7" r="1.05"/><circle cx="324.2" cy="280.1" r="1.05"/><circle cx="335.7" cy="284.1" r="1.05"/><circle cx="326.7" cy="285.3" r="1.05"/><circle cx="334.4" cy="286.0" r="1.05"/><circle cx="329.1" cy="289.2" r="1.05"/><circle cx="333.6" cy="286.1" r="1.05"/><circle cx="322.6" cy="282.4" r="1.05"/><circle cx="327.5" cy="285.9" r="1.05"/><circle cx="328.6" cy="284.7" r="1.05"/><circle cx="339.3" cy="289.3" r="1.05"/><circle cx="341.5" cy="287.7" r="1.05"/><circle cx="330.8" cy="283.3" r="1.05"/><circle cx="324.7" cy="276.3" r="1.05"/><circle cx="338.6" cy="288.0" r="1.05"/><circle cx="330.1" cy="283.5" r="1.05"/><circle cx="341.0" cy="281.7" r="1.05"/></g>
<g fill="#fff" fill-opacity="0.6"><circle cx="338.6" cy="302.7" r="0.5"/><circle cx="339.0" cy="300.3" r="0.5"/><circle cx="339.6" cy="302.3" r="0.5"/><circle cx="342.4" cy="297.2" r="0.5"/><circle cx="341.5" cy="296.1" r="0.5"/><circle cx="339.1" cy="301.3" r="0.5"/><circle cx="333.3" cy="304.6" r="0.5"/><circle cx="334.9" cy="299.8" r="0.5"/><circle cx="339.5" cy="303.8" r="0.5"/></g>
<path d="M345.1 351.2V306.6h1.1V351.2zM346.0 351.2V300.8h1.1V351.2zM346.8 351.2V292.7h1.1V351.2zM347.7 351.2V297.5h1.1V351.2zM348.5 351.2V292.0h1.1V351.2zM349.4 351.2V288.4h1.1V351.2zM350.2 351.2V290.3h1.1V351.2zM351.1 351.2V291.5h1.1V351.2zM351.9 351.2V286.8h1.1V351.2zM352.8 351.2V290.6h1.1V351.2zM353.6 351.2V290.6h1.1V351.2zM354.5 351.2V297.7h1.1V351.2zM355.3 351.2V295.5h1.1V351.2zM356.2 351.2V298.8h1.1V351.2zM357.0 351.2V299.1h1.1V351.2zM357.9 351.2V295.3h1.1V351.2zM358.7 351.2V295.9h1.1V351.2zM359.6 351.2V295.3h1.1V351.2zM360.4 351.2V295.7h1.1V351.2zM361.3 351.2V293.9h1.1V351.2zM362.1 351.2V295.5h1.1V351.2zM363.0 351.2V294.8h1.1V351.2zM363.8 351.2V292.2h1.1V351.2zM364.7 351.2V296.3h1.1V351.2zM365.5 351.2V299.5h1.1V351.2zM366.4 351.2V307.1h1.1V351.2z" fill="#b26089"/>
<rect x="345.3" y="311.7" width="22.0" height="39.5" fill="#b26089"/>
<g fill="#b26089"><circle cx="361.5" cy="295.0" r="1.05"/><circle cx="349.7" cy="283.0" r="1.05"/><circle cx="358.6" cy="294.6" r="1.05"/><circle cx="346.5" cy="291.4" r="1.05"/><circle cx="360.6" cy="294.1" r="1.05"/><circle cx="351.6" cy="283.3" r="1.05"/><circle cx="357.9" cy="293.5" r="1.05"/><circle cx="354.0" cy="284.6" r="1.05"/><circle cx="358.0" cy="291.9" r="1.05"/><circle cx="358.7" cy="296.1" r="1.05"/><circle cx="364.9" cy="290.8" r="1.05"/><circle cx="364.3" cy="290.2" r="1.05"/><circle cx="358.4" cy="291.6" r="1.05"/><circle cx="365.3" cy="293.3" r="1.05"/><circle cx="360.7" cy="293.9" r="1.05"/><circle cx="363.8" cy="286.5" r="1.05"/><circle cx="351.2" cy="290.8" r="1.05"/><circle cx="350.0" cy="285.0" r="1.05"/><circle cx="357.5" cy="293.3" r="1.05"/><circle cx="354.0" cy="290.6" r="1.05"/><circle cx="348.8" cy="286.7" r="1.05"/><circle cx="351.2" cy="291.1" r="1.05"/><circle cx="351.0" cy="289.4" r="1.05"/><circle cx="353.1" cy="287.4" r="1.05"/><circle cx="348.2" cy="285.6" r="1.05"/><circle cx="348.9" cy="283.8" r="1.05"/><circle cx="362.4" cy="293.0" r="1.05"/><circle cx="360.7" cy="281.2" r="1.05"/><circle cx="350.5" cy="283.3" r="1.05"/><circle cx="350.8" cy="289.8" r="1.05"/><circle cx="360.4" cy="285.7" r="1.05"/><circle cx="358.1" cy="294.8" r="1.05"/></g>
<g fill="#fff" fill-opacity="0.6"><circle cx="358.5" cy="302.0" r="0.5"/><circle cx="363.7" cy="301.3" r="0.5"/><circle cx="356.6" cy="305.0" r="0.5"/><circle cx="351.7" cy="307.0" r="0.5"/><circle cx="354.0" cy="306.0" r="0.5"/><circle cx="357.7" cy="302.9" r="0.5"/><circle cx="354.1" cy="300.9" r="0.5"/><circle cx="349.8" cy="307.7" r="0.5"/></g>
<path d="M367.3 351.2V304.7h1.1V351.2zM368.2 351.2V300.3h1.1V351.2zM369.0 351.2V297.4h1.1V351.2zM369.9 351.2V291.0h1.1V351.2zM370.7 351.2V296.8h1.1V351.2zM371.6 351.2V288.6h1.1V351.2zM372.4 351.2V290.7h1.1V351.2zM373.3 351.2V293.4h1.1V351.2zM374.1 351.2V286.0h1.1V351.2zM375.0 351.2V320.1h1.1V351.2zM375.8 351.2V321.1h1.1V351.2zM377.5 351.2V315.8h1.1V351.2zM378.4 351.2V300.4h1.1V351.2zM379.2 351.2V299.1h1.1V351.2zM380.1 351.2V294.3h1.1V351.2zM380.9 351.2V290.5h1.1V351.2zM381.8 351.2V292.4h1.1V351.2zM382.6 351.2V287.4h1.1V351.2zM383.5 351.2V291.0h1.1V351.2zM384.3 351.2V286.5h1.1V351.2zM385.2 351.2V286.0h1.1V351.2zM386.0 351.2V285.9h1.1V351.2zM386.9 351.2V295.1h1.1V351.2zM387.7 351.2V302.5h1.1V351.2z" fill="#d4770c"/>
<rect x="367.5" y="309.0" width="8.0" height="42.2" fill="#d4770c"/>
<rect x="378.4" y="309.0" width="10.4" height="42.2" fill="#d4770c"/>
<rect x="375.3" y="323.9" width="1.4" height="27.3" fill="#d4770c"/>
<rect x="377.9" y="323.9" width="0.7" height="27.3" fill="#d4770c"/>
<g fill="#d4770c"><circle cx="371.1" cy="286.4" r="1.05"/><circle cx="373.1" cy="291.0" r="1.05"/><circle cx="386.6" cy="289.5" r="1.05"/><circle cx="385.6" cy="288.2" r="1.05"/><circle cx="384.2" cy="283.1" r="1.05"/><circle cx="371.8" cy="287.7" r="1.05"/><circle cx="383.3" cy="288.0" r="1.05"/><circle cx="374.1" cy="293.7" r="1.05"/><circle cx="369.7" cy="292.4" r="1.05"/><circle cx="382.0" cy="291.6" r="1.05"/><circle cx="374.8" cy="293.1" r="1.05"/><circle cx="371.7" cy="293.6" r="1.05"/><circle cx="387.6" cy="290.1" r="1.05"/><circle cx="382.3" cy="286.0" r="1.05"/><circle cx="370.6" cy="289.6" r="1.05"/><circle cx="372.2" cy="292.4" r="1.05"/><circle cx="386.2" cy="284.8" r="1.05"/><circle cx="386.6" cy="288.1" r="1.05"/><circle cx="373.2" cy="294.3" r="1.05"/><circle cx="383.4" cy="286.7" r="1.05"/><circle cx="372.1" cy="284.1" r="1.05"/><circle cx="386.4" cy="285.4" r="1.05"/><circle cx="384.5" cy="286.1" r="1.05"/><circle cx="372.1" cy="289.8" r="1.05"/><circle cx="379.1" cy="287.3" r="1.05"/><circle cx="373.1" cy="291.0" r="1.05"/><circle cx="380.6" cy="287.9" r="1.05"/></g>
<g fill="#fff" fill-opacity="0.6"><circle cx="386.0" cy="305.8" r="0.5"/><circle cx="378.0" cy="301.9" r="0.5"/><circle cx="371.5" cy="300.1" r="0.5"/><circle cx="379.7" cy="298.2" r="0.5"/><circle cx="381.8" cy="298.9" r="0.5"/><circle cx="377.1" cy="306.0" r="0.5"/><circle cx="370.2" cy="297.8" r="0.5"/><circle cx="377.0" cy="299.1" r="0.5"/></g>
<path d="M388.6 351.2V300.6h1.1V351.2zM389.5 351.2V294.6h1.1V351.2zM390.3 351.2V290.3h1.1V351.2zM391.2 351.2V287.5h1.1V351.2zM392.0 351.2V288.6h1.1V351.2zM392.9 351.2V290.6h1.1V351.2zM393.7 351.2V287.1h1.1V351.2zM394.6 351.2V291.5h1.1V351.2zM395.4 351.2V293.3h1.1V351.2zM396.3 351.2V290.8h1.1V351.2zM397.1 351.2V294.0h1.1V351.2zM398.0 351.2V291.8h1.1V351.2zM398.8 351.2V291.9h1.1V351.2zM399.7 351.2V295.7h1.1V351.2zM400.5 351.2V293.4h1.1V351.2zM401.4 351.2V290.9h1.1V351.2zM402.2 351.2V289.1h1.1V351.2zM403.1 351.2V286.0h1.1V351.2zM403.9 351.2V284.3h1.1V351.2zM404.8 351.2V288.8h1.1V351.2zM405.6 351.2V293.0h1.1V351.2zM406.5 351.2V290.7h1.1V351.2zM407.3 351.2V293.3h1.1V351.2zM408.2 351.2V299.2h1.1V351.2z" fill="#4ea42e"/>
<rect x="388.8" y="307.0" width="21.0" height="44.2" fill="#4ea42e"/>
<g fill="#4ea42e"><circle cx="393.8" cy="283.4" r="1.05"/><circle cx="397.9" cy="280.2" r="1.05"/><circle cx="406.4" cy="278.7" r="1.05"/><circle cx="406.3" cy="285.1" r="1.05"/><circle cx="396.3" cy="281.4" r="1.05"/><circle cx="405.5" cy="288.0" r="1.05"/><circle cx="403.8" cy="276.2" r="1.05"/><circle cx="390.6" cy="286.0" r="1.05"/><circle cx="400.2" cy="285.8" r="1.05"/><circle cx="407.4" cy="289.7" r="1.05"/><circle cx="393.5" cy="279.7" r="1.05"/><circle cx="400.8" cy="290.1" r="1.05"/><circle cx="391.9" cy="283.2" r="1.05"/><circle cx="400.3" cy="284.3" r="1.05"/><circle cx="397.0" cy="280.8" r="1.05"/><circle cx="400.0" cy="279.9" r="1.05"/><circle cx="407.8" cy="290.9" r="1.05"/><circle cx="392.7" cy="277.7" r="1.05"/><circle cx="405.0" cy="289.2" r="1.05"/><circle cx="405.3" cy="284.2" r="1.05"/><circle cx="398.8" cy="281.7" r="1.05"/><circle cx="397.3" cy="280.7" r="1.05"/><circle cx="391.2" cy="286.8" r="1.05"/><circle cx="406.8" cy="289.9" r="1.05"/><circle cx="393.0" cy="285.0" r="1.05"/><circle cx="400.8" cy="286.7" r="1.05"/><circle cx="389.9" cy="285.9" r="1.05"/><circle cx="390.7" cy="284.8" r="1.05"/><circle cx="395.0" cy="286.4" r="1.05"/><circle cx="394.8" cy="284.4" r="1.05"/></g>
<g fill="#fff" fill-opacity="0.6"><circle cx="408.0" cy="304.2" r="0.5"/><circle cx="390.4" cy="300.4" r="0.5"/><circle cx="404.4" cy="303.1" r="0.5"/><circle cx="404.5" cy="301.0" r="0.5"/><circle cx="401.9" cy="298.6" r="0.5"/><circle cx="395.2" cy="302.4" r="0.5"/><circle cx="406.4" cy="303.7" r="0.5"/><circle cx="402.7" cy="298.1" r="0.5"/></g>
<path d="M409.6 351.2V304.8h1.1V351.2zM410.5 351.2V301.0h1.1V351.2zM411.3 351.2V295.5h1.1V351.2zM412.2 351.2V300.1h1.1V351.2zM413.0 351.2V296.1h1.1V351.2zM413.9 351.2V299.2h1.1V351.2zM414.7 351.2V296.2h1.1V351.2zM415.6 351.2V292.4h1.1V351.2zM416.4 351.2V292.3h1.1V351.2zM417.3 351.2V288.8h1.1V351.2zM418.1 351.2V289.5h1.1V351.2zM419.0 351.2V297.1h1.1V351.2zM419.8 351.2V294.4h1.1V351.2zM420.7 351.2V283.2h1.1V351.2zM421.5 351.2V279.5h1.1V351.2zM422.4 351.2V279.8h1.1V351.2zM423.2 351.2V284.5h1.1V351.2zM424.1 351.2V289.8h1.1V351.2zM424.9 351.2V285.1h1.1V351.2zM425.8 351.2V291.4h1.1V351.2zM426.6 351.2V286.5h1.1V351.2zM427.5 351.2V285.2h1.1V351.2zM428.3 351.2V291.0h1.1V351.2zM429.2 351.2V303.3h1.1V351.2z" fill="#b58ff0"/>
<rect x="409.8" y="309.7" width="20.4" height="41.5" fill="#b58ff0"/>
<g fill="#b58ff0"><circle cx="413.4" cy="295.0" r="1.05"/><circle cx="425.8" cy="282.2" r="1.05"/><circle cx="421.6" cy="280.9" r="1.05"/><circle cx="421.9" cy="281.9" r="1.05"/><circle cx="415.5" cy="285.3" r="1.05"/><circle cx="425.1" cy="280.7" r="1.05"/><circle cx="428.8" cy="282.4" r="1.05"/><circle cx="420.4" cy="282.7" r="1.05"/><circle cx="411.0" cy="291.6" r="1.05"/><circle cx="415.0" cy="292.4" r="1.05"/><circle cx="411.3" cy="295.8" r="1.05"/><circle cx="420.0" cy="286.4" r="1.05"/><circle cx="428.1" cy="283.8" r="1.05"/><circle cx="414.1" cy="283.9" r="1.05"/><circle cx="413.8" cy="289.3" r="1.05"/><circle cx="415.3" cy="288.3" r="1.05"/><circle cx="422.5" cy="280.2" r="1.05"/><circle cx="419.3" cy="279.6" r="1.05"/><circle cx="412.8" cy="295.5" r="1.05"/><circle cx="422.7" cy="277.8" r="1.05"/><circle cx="411.9" cy="293.8" r="1.05"/><circle cx="414.9" cy="293.0" r="1.05"/><circle cx="418.8" cy="289.4" r="1.05"/><circle cx="424.8" cy="281.3" r="1.05"/><circle cx="429.1" cy="284.1" r="1.05"/><circle cx="413.7" cy="286.5" r="1.05"/><circle cx="415.7" cy="283.4" r="1.05"/><circle cx="416.0" cy="289.3" r="1.05"/></g>
<g fill="#fff" fill-opacity="0.6"><circle cx="427.2" cy="299.6" r="0.5"/><circle cx="423.4" cy="303.4" r="0.5"/><circle cx="419.1" cy="303.2" r="0.5"/><circle cx="427.0" cy="300.0" r="0.5"/><circle cx="427.1" cy="301.3" r="0.5"/><circle cx="425.1" cy="305.7" r="0.5"/><circle cx="414.2" cy="305.8" r="0.5"/><circle cx="429.1" cy="300.8" r="0.5"/></g>
<path d="M430.0 351.2V302.7h1.1V351.2zM430.9 351.2V297.8h1.1V351.2zM431.7 351.2V293.0h1.1V351.2zM432.6 351.2V287.1h1.1V351.2zM433.4 351.2V290.8h1.1V351.2zM434.3 351.2V291.2h1.1V351.2zM435.1 351.2V289.2h1.1V351.2zM436.0 351.2V292.8h1.1V351.2zM436.8 351.2V291.5h1.1V351.2zM437.7 351.2V294.3h1.1V351.2zM438.5 351.2V293.4h1.1V351.2zM439.4 351.2V290.5h1.1V351.2zM440.2 351.2V294.3h1.1V351.2zM441.1 351.2V289.1h1.1V351.2zM441.9 351.2V281.5h1.1V351.2zM442.8 351.2V277.9h1.1V351.2zM443.6 351.2V286.7h1.1V351.2zM444.5 351.2V288.0h1.1V351.2zM445.3 351.2V280.4h1.1V351.2zM446.2 351.2V283.6h1.1V351.2zM447.0 351.2V293.4h1.1V351.2zM447.9 351.2V295.7h1.1V351.2zM448.7 351.2V294.5h1.1V351.2zM449.6 351.2V293.6h1.1V351.2zM450.4 351.2V293.2h1.1V351.2zM451.3 351.2V301.4h1.1V351.2z" fill="#fbdc0c"/>
<rect x="430.2" y="308.3" width="22.4" height="42.9" fill="#fbdc0c"/>
<g fill="#fbdc0c"><circle cx="439.2" cy="283.0" r="1.05"/><circle cx="445.0" cy="284.5" r="1.05"/><circle cx="442.3" cy="285.1" r="1.05"/><circle cx="436.6" cy="282.0" r="1.05"/><circle cx="445.9" cy="285.0" r="1.05"/><circle cx="435.7" cy="279.7" r="1.05"/><circle cx="442.0" cy="283.4" r="1.05"/><circle cx="447.8" cy="290.3" r="1.05"/><circle cx="448.0" cy="285.8" r="1.05"/><circle cx="448.1" cy="279.4" r="1.05"/><circle cx="432.1" cy="285.4" r="1.05"/><circle cx="447.9" cy="291.1" r="1.05"/><circle cx="436.3" cy="289.0" r="1.05"/><circle cx="447.6" cy="286.8" r="1.05"/><circle cx="445.4" cy="285.1" r="1.05"/><circle cx="447.5" cy="287.2" r="1.05"/><circle cx="445.1" cy="285.2" r="1.05"/><circle cx="436.0" cy="287.3" r="1.05"/><circle cx="439.0" cy="290.2" r="1.05"/><circle cx="442.8" cy="289.7" r="1.05"/><circle cx="445.9" cy="287.9" r="1.05"/><circle cx="436.1" cy="285.3" r="1.05"/><circle cx="444.2" cy="282.9" r="1.05"/><circle cx="439.8" cy="280.7" r="1.05"/><circle cx="438.8" cy="288.5" r="1.05"/><circle cx="438.7" cy="284.1" r="1.05"/><circle cx="439.5" cy="279.0" r="1.05"/><circle cx="438.4" cy="284.6" r="1.05"/><circle cx="450.1" cy="277.8" r="1.05"/><circle cx="445.7" cy="284.1" r="1.05"/><circle cx="437.9" cy="284.8" r="1.05"/><circle cx="438.9" cy="284.2" r="1.05"/></g>
<g fill="#fff" fill-opacity="0.6"><circle cx="449.6" cy="303.5" r="0.5"/><circle cx="431.7" cy="302.0" r="0.5"/><circle cx="440.6" cy="300.9" r="0.5"/><circle cx="448.3" cy="300.4" r="0.5"/><circle cx="440.9" cy="304.6" r="0.5"/><circle cx="440.2" cy="301.1" r="0.5"/><circle cx="441.6" cy="304.1" r="0.5"/><circle cx="444.9" cy="303.3" r="0.5"/></g>
<path d="M453.4 351.2V304.4h1.1V351.2zM454.3 351.2V300.0h1.1V351.2zM455.1 351.2V288.4h1.1V351.2zM456.0 351.2V285.7h1.1V351.2zM456.8 351.2V287.1h1.1V351.2zM457.7 351.2V282.9h1.1V351.2zM458.5 351.2V292.1h1.1V351.2zM459.4 351.2V285.2h1.1V351.2zM460.2 351.2V286.3h1.1V351.2zM461.1 351.2V294.1h1.1V351.2zM461.9 351.2V289.5h1.1V351.2zM462.8 351.2V295.4h1.1V351.2zM463.6 351.2V295.1h1.1V351.2zM464.5 351.2V292.9h1.1V351.2zM465.3 351.2V295.2h1.1V351.2zM466.2 351.2V297.6h1.1V351.2zM467.0 351.2V295.6h1.1V351.2zM467.9 351.2V298.8h1.1V351.2zM468.7 351.2V302.9h1.1V351.2z" fill="#2b2bd8"/>
<rect x="453.6" y="310.3" width="16.3" height="40.9" fill="#2b2bd8"/>
<g fill="#2b2bd8"><circle cx="466.9" cy="291.8" r="1.05"/><circle cx="457.2" cy="281.5" r="1.05"/><circle cx="466.0" cy="289.3" r="1.05"/><circle cx="464.3" cy="292.8" r="1.05"/><circle cx="466.6" cy="284.8" r="1.05"/><circle cx="457.6" cy="291.8" r="1.05"/><circle cx="465.8" cy="290.2" r="1.05"/><circle cx="464.0" cy="283.9" r="1.05"/><circle cx="464.4" cy="294.2" r="1.05"/><circle cx="464.5" cy="287.3" r="1.05"/><circle cx="458.8" cy="288.1" r="1.05"/><circle cx="459.2" cy="289.0" r="1.05"/><circle cx="467.6" cy="287.8" r="1.05"/><circle cx="460.2" cy="292.1" r="1.05"/><circle cx="463.8" cy="290.7" r="1.05"/><circle cx="455.9" cy="284.1" r="1.05"/><circle cx="460.7" cy="290.4" r="1.05"/><circle cx="466.4" cy="284.5" r="1.05"/><circle cx="468.8" cy="292.5" r="1.05"/><circle cx="458.8" cy="285.0" r="1.05"/><circle cx="461.7" cy="290.0" r="1.05"/><circle cx="461.5" cy="286.8" r="1.05"/><circle cx="462.3" cy="293.8" r="1.05"/></g>
<g fill="#fff" fill-opacity="0.6"><circle cx="458.5" cy="306.7" r="0.5"/><circle cx="466.7" cy="300.8" r="0.5"/><circle cx="467.8" cy="299.1" r="0.5"/><circle cx="463.2" cy="307.3" r="0.5"/><circle cx="459.5" cy="307.1" r="0.5"/><circle cx="464.0" cy="299.3" r="0.5"/></g>
<path d="M470.6 351.2V303.5h1.1V351.2zM471.5 351.2V292.9h1.1V351.2zM472.3 351.2V287.3h1.1V351.2zM473.2 351.2V292.9h1.1V351.2zM474.0 351.2V290.9h1.1V351.2zM474.9 351.2V291.3h1.1V351.2zM475.7 351.2V286.0h1.1V351.2zM476.6 351.2V291.2h1.1V351.2zM477.4 351.2V292.4h1.1V351.2zM478.3 351.2V295.8h1.1V351.2zM479.1 351.2V295.8h1.1V351.2zM480.0 351.2V295.2h1.1V351.2zM480.8 351.2V295.5h1.1V351.2zM481.7 351.2V292.7h1.1V351.2zM482.5 351.2V290.2h1.1V351.2zM483.4 351.2V293.6h1.1V351.2zM484.2 351.2V294.9h1.1V351.2zM485.1 351.2V299.2h1.1V351.2z" fill="#b01a33"/>
<rect x="470.8" y="309.0" width="15.8" height="42.2" fill="#b01a33"/>
<g fill="#b01a33"><circle cx="472.4" cy="285.6" r="1.05"/><circle cx="483.0" cy="285.6" r="1.05"/><circle cx="478.2" cy="292.3" r="1.05"/><circle cx="484.8" cy="291.3" r="1.05"/><circle cx="473.0" cy="286.6" r="1.05"/><circle cx="481.2" cy="291.5" r="1.05"/><circle cx="473.7" cy="291.5" r="1.05"/><circle cx="482.7" cy="289.2" r="1.05"/><circle cx="482.6" cy="284.5" r="1.05"/><circle cx="480.6" cy="289.1" r="1.05"/><circle cx="483.5" cy="291.0" r="1.05"/><circle cx="481.7" cy="291.7" r="1.05"/><circle cx="485.1" cy="287.4" r="1.05"/><circle cx="473.7" cy="277.8" r="1.05"/><circle cx="484.3" cy="284.7" r="1.05"/><circle cx="482.9" cy="289.3" r="1.05"/><circle cx="483.2" cy="282.5" r="1.05"/><circle cx="475.9" cy="288.0" r="1.05"/><circle cx="484.9" cy="279.6" r="1.05"/><circle cx="482.7" cy="285.2" r="1.05"/><circle cx="475.0" cy="290.4" r="1.05"/></g>
<g fill="#fff" fill-opacity="0.6"><circle cx="475.1" cy="301.8" r="0.5"/><circle cx="484.3" cy="303.5" r="0.5"/><circle cx="481.6" cy="300.9" r="0.5"/><circle cx="482.6" cy="304.5" r="0.5"/><circle cx="481.2" cy="305.8" r="0.5"/><circle cx="483.2" cy="301.0" r="0.5"/></g>
<path d="M487.3 351.2V300.2h1.1V351.2zM488.2 351.2V292.5h1.1V351.2zM489.0 351.2V292.8h1.1V351.2zM489.9 351.2V290.9h1.1V351.2zM490.7 351.2V287.9h1.1V351.2zM491.6 351.2V293.0h1.1V351.2zM492.4 351.2V292.1h1.1V351.2zM493.3 351.2V292.8h1.1V351.2zM494.1 351.2V295.6h1.1V351.2zM495.0 351.2V291.3h1.1V351.2zM495.8 351.2V290.0h1.1V351.2zM496.7 351.2V282.8h1.1V351.2zM497.5 351.2V284.5h1.1V351.2zM498.4 351.2V294.7h1.1V351.2z" fill="#07665f"/>
<rect x="487.5" y="307.0" width="12.5" height="44.2" fill="#07665f"/>
<g fill="#07665f"><circle cx="494.3" cy="287.4" r="1.05"/><circle cx="492.5" cy="279.8" r="1.05"/><circle cx="495.5" cy="287.4" r="1.05"/><circle cx="493.2" cy="288.1" r="1.05"/><circle cx="495.4" cy="287.6" r="1.05"/><circle cx="494.0" cy="280.9" r="1.05"/><circle cx="493.7" cy="275.8" r="1.05"/><circle cx="489.1" cy="285.7" r="1.05"/><circle cx="494.4" cy="285.5" r="1.05"/><circle cx="497.9" cy="278.1" r="1.05"/><circle cx="488.9" cy="291.3" r="1.05"/><circle cx="498.5" cy="281.4" r="1.05"/><circle cx="494.7" cy="290.7" r="1.05"/><circle cx="492.6" cy="285.7" r="1.05"/><circle cx="491.4" cy="287.5" r="1.05"/><circle cx="494.2" cy="275.3" r="1.05"/><circle cx="495.3" cy="284.5" r="1.05"/><circle cx="492.5" cy="284.0" r="1.05"/></g>
<g fill="#fff" fill-opacity="0.6"><circle cx="495.8" cy="297.9" r="0.5"/><circle cx="490.2" cy="300.5" r="0.5"/><circle cx="497.2" cy="302.4" r="0.5"/><circle cx="492.1" cy="296.7" r="0.5"/><circle cx="493.9" cy="303.2" r="0.5"/></g>
<path d="M499.8 351.2V300.3h1.1V351.2zM500.7 351.2V296.4h1.1V351.2zM501.5 351.2V293.3h1.1V351.2zM502.4 351.2V291.3h1.1V351.2zM503.2 351.2V285.7h1.1V351.2zM504.1 351.2V284.5h1.1V351.2zM504.9 351.2V287.5h1.1V351.2zM505.8 351.2V284.6h1.1V351.2zM506.6 351.2V288.9h1.1V351.2zM507.5 351.2V305.5h1.1V351.2zM508.3 351.2V304.8h1.1V351.2zM509.2 351.2V291.2h1.1V351.2zM510.0 351.2V284.8h1.1V351.2zM510.9 351.2V286.1h1.1V351.2zM511.7 351.2V286.6h1.1V351.2zM512.6 351.2V297.8h1.1V351.2z" fill="#563207"/>
<rect x="500.0" y="306.3" width="7.2" height="44.9" fill="#563207"/>
<rect x="508.9" y="306.3" width="4.9" height="44.9" fill="#563207"/>
<rect x="507.0" y="309.0" width="2.1" height="42.2" fill="#563207"/>
<g fill="#563207"><circle cx="505.6" cy="283.0" r="1.05"/><circle cx="503.2" cy="281.8" r="1.05"/><circle cx="511.6" cy="286.4" r="1.05"/><circle cx="501.8" cy="287.6" r="1.05"/><circle cx="511.1" cy="279.7" r="1.05"/><circle cx="505.8" cy="285.2" r="1.05"/><circle cx="502.8" cy="281.3" r="1.05"/><circle cx="511.6" cy="276.2" r="1.05"/><circle cx="502.5" cy="282.6" r="1.05"/><circle cx="504.2" cy="285.0" r="1.05"/><circle cx="510.7" cy="285.7" r="1.05"/><circle cx="503.6" cy="284.4" r="1.05"/><circle cx="512.5" cy="283.3" r="1.05"/></g>
<g fill="#fff" fill-opacity="0.6"><circle cx="501.9" cy="302.1" r="0.5"/><circle cx="504.8" cy="294.8" r="0.5"/><circle cx="508.4" cy="296.0" r="0.5"/><circle cx="504.2" cy="295.3" r="0.5"/><circle cx="506.3" cy="299.6" r="0.5"/></g>
<path d="M513.6 351.2V302.3h1.1V351.2zM514.5 351.2V295.6h1.1V351.2zM515.3 351.2V291.5h1.1V351.2zM516.2 351.2V293.1h1.1V351.2zM517.0 351.2V293.4h1.1V351.2zM517.9 351.2V286.8h1.1V351.2zM518.7 351.2V288.0h1.1V351.2zM519.6 351.2V281.0h1.1V351.2zM520.4 351.2V286.9h1.1V351.2zM521.3 351.2V282.4h1.1V351.2zM522.1 351.2V288.2h1.1V351.2zM523.0 351.2V283.4h1.1V351.2zM523.8 351.2V286.0h1.1V351.2zM524.7 351.2V289.0h1.1V351.2zM525.5 351.2V301.0h1.1V351.2z" fill="#9a3fdc"/>
<rect x="513.8" y="307.6" width="12.6" height="43.6" fill="#9a3fdc"/>
<g fill="#9a3fdc"><circle cx="522.4" cy="288.0" r="1.05"/><circle cx="514.9" cy="287.9" r="1.05"/><circle cx="521.5" cy="285.8" r="1.05"/><circle cx="518.0" cy="291.3" r="1.05"/><circle cx="518.6" cy="280.4" r="1.05"/><circle cx="519.6" cy="289.9" r="1.05"/><circle cx="516.4" cy="289.3" r="1.05"/><circle cx="519.8" cy="284.3" r="1.05"/><circle cx="516.0" cy="289.8" r="1.05"/><circle cx="517.0" cy="292.3" r="1.05"/><circle cx="525.2" cy="279.8" r="1.05"/><circle cx="518.9" cy="279.3" r="1.05"/><circle cx="516.2" cy="292.4" r="1.05"/><circle cx="521.0" cy="286.9" r="1.05"/><circle cx="523.6" cy="276.4" r="1.05"/></g>
<g fill="#fff" fill-opacity="0.6"><circle cx="515.3" cy="303.9" r="0.5"/><circle cx="520.5" cy="296.7" r="0.5"/><circle cx="518.2" cy="301.6" r="0.5"/><circle cx="524.2" cy="300.4" r="0.5"/><circle cx="521.6" cy="297.9" r="0.5"/></g>
<path d="M526.2 351.2V300.4h1.1V351.2zM527.1 351.2V295.3h1.1V351.2zM527.9 351.2V288.9h1.1V351.2zM528.8 351.2V289.4h1.1V351.2zM529.6 351.2V285.9h1.1V351.2zM530.5 351.2V288.7h1.1V351.2zM531.3 351.2V293.0h1.1V351.2zM532.2 351.2V292.9h1.1V351.2zM533.0 351.2V292.3h1.1V351.2zM533.9 351.2V281.4h1.1V351.2zM534.7 351.2V289.2h1.1V351.2zM535.6 351.2V285.2h1.1V351.2zM536.4 351.2V295.0h1.1V351.2z" fill="#7e8b21"/>
<rect x="526.4" y="307.6" width="11.6" height="43.6" fill="#7e8b21"/>
<g fill="#7e8b21"><circle cx="528.4" cy="285.4" r="1.05"/><circle cx="529.2" cy="288.7" r="1.05"/><circle cx="532.3" cy="285.7" r="1.05"/><circle cx="535.9" cy="284.4" r="1.05"/><circle cx="535.6" cy="280.3" r="1.05"/><circle cx="532.2" cy="286.6" r="1.05"/><circle cx="535.1" cy="291.0" r="1.05"/><circle cx="532.6" cy="289.6" r="1.05"/><circle cx="527.5" cy="292.5" r="1.05"/><circle cx="535.4" cy="283.8" r="1.05"/><circle cx="528.6" cy="290.1" r="1.05"/><circle cx="531.5" cy="275.9" r="1.05"/><circle cx="532.6" cy="291.2" r="1.05"/><circle cx="534.4" cy="280.7" r="1.05"/><circle cx="528.4" cy="290.6" r="1.05"/><circle cx="534.7" cy="287.3" r="1.05"/><circle cx="536.8" cy="285.0" r="1.05"/></g>
<g fill="#fff" fill-opacity="0.6"><circle cx="528.1" cy="297.1" r="0.5"/><circle cx="534.0" cy="301.4" r="0.5"/><circle cx="532.4" cy="300.1" r="0.5"/><circle cx="531.3" cy="301.5" r="0.5"/></g>
<path d="M537.8 351.2V302.1h1.1V351.2zM538.7 351.2V296.4h1.1V351.2zM539.5 351.2V291.7h1.1V351.2zM540.4 351.2V279.1h1.1V351.2zM541.2 351.2V283.9h1.1V351.2zM542.1 351.2V282.3h1.1V351.2zM542.9 351.2V282.5h1.1V351.2zM543.8 351.2V291.5h1.1V351.2zM544.6 351.2V288.7h1.1V351.2zM545.5 351.2V298.2h1.1V351.2z" fill="#2396f6"/>
<rect x="538.0" y="307.6" width="8.8" height="43.6" fill="#2396f6"/>
<g fill="#2396f6"><circle cx="544.4" cy="287.8" r="1.05"/><circle cx="544.6" cy="285.7" r="1.05"/><circle cx="540.1" cy="284.6" r="1.05"/><circle cx="542.7" cy="281.5" r="1.05"/><circle cx="539.6" cy="289.8" r="1.05"/><circle cx="545.2" cy="290.7" r="1.05"/><circle cx="543.9" cy="283.7" r="1.05"/><circle cx="542.0" cy="280.8" r="1.05"/><circle cx="544.1" cy="285.2" r="1.05"/><circle cx="540.7" cy="286.2" r="1.05"/><circle cx="540.4" cy="276.0" r="1.05"/></g>
<g fill="#fff" fill-opacity="0.6"><circle cx="543.4" cy="301.3" r="0.5"/><circle cx="543.5" cy="301.4" r="0.5"/><circle cx="543.7" cy="298.8" r="0.5"/></g>
<path d="M546.6 351.2V310.3h1.1V351.2zM547.5 351.2V305.3h1.1V351.2zM548.3 351.2V301.5h1.1V351.2zM549.2 351.2V302.7h1.1V351.2zM550.0 351.2V304.7h1.1V351.2zM550.9 351.2V305.2h1.1V351.2zM551.7 351.2V292.3h1.1V351.2zM552.6 351.2V299.8h1.1V351.2zM553.4 351.2V295.5h1.1V351.2zM554.3 351.2V300.7h1.1V351.2zM555.1 351.2V298.8h1.1V351.2zM556.0 351.2V300.4h1.1V351.2zM556.8 351.2V308.3h1.1V351.2z" fill="#b26089"/>
<rect x="546.8" y="314.4" width="11.0" height="36.8" fill="#b26089"/>
<g fill="#b26089"><circle cx="554.9" cy="296.2" r="1.05"/><circle cx="552.5" cy="299.2" r="1.05"/><circle cx="555.0" cy="295.9" r="1.05"/><circle cx="554.7" cy="297.5" r="1.05"/><circle cx="549.8" cy="298.9" r="1.05"/><circle cx="553.6" cy="290.4" r="1.05"/><circle cx="548.3" cy="293.2" r="1.05"/><circle cx="549.9" cy="298.4" r="1.05"/><circle cx="548.8" cy="295.6" r="1.05"/><circle cx="548.6" cy="298.1" r="1.05"/><circle cx="549.4" cy="298.4" r="1.05"/><circle cx="548.9" cy="298.9" r="1.05"/><circle cx="552.0" cy="296.8" r="1.05"/><circle cx="548.4" cy="295.1" r="1.05"/><circle cx="552.9" cy="285.5" r="1.05"/><circle cx="555.5" cy="286.2" r="1.05"/></g>
<g fill="#fff" fill-opacity="0.6"><circle cx="552.5" cy="305.0" r="0.5"/><circle cx="549.3" cy="310.5" r="0.5"/><circle cx="549.7" cy="303.6" r="0.5"/><circle cx="550.2" cy="311.0" r="0.5"/></g>
<path d="M557.7 351.2V303.4h1.1V351.2zM558.6 351.2V297.2h1.1V351.2zM559.4 351.2V283.1h1.1V351.2zM560.3 351.2V288.9h1.1V351.2zM561.1 351.2V288.6h1.1V351.2zM562.0 351.2V289.6h1.1V351.2zM562.8 351.2V289.3h1.1V351.2zM563.7 351.2V294.5h1.1V351.2zM564.5 351.2V299.4h1.1V351.2z" fill="#d4770c"/>
<rect x="557.9" y="307.6" width="8.1" height="43.6" fill="#d4770c"/>
<g fill="#d4770c"><circle cx="559.1" cy="292.0" r="1.05"/><circle cx="560.1" cy="287.0" r="1.05"/><circle cx="564.6" cy="288.5" r="1.05"/><circle cx="559.0" cy="290.9" r="1.05"/><circle cx="561.8" cy="278.0" r="1.05"/><circle cx="561.9" cy="284.7" r="1.05"/><circle cx="560.2" cy="289.3" r="1.05"/><circle cx="565.0" cy="292.4" r="1.05"/><circle cx="564.8" cy="291.3" r="1.05"/><circle cx="561.0" cy="290.0" r="1.05"/><circle cx="561.2" cy="284.4" r="1.05"/><circle cx="558.9" cy="291.3" r="1.05"/></g>
<g fill="#fff" fill-opacity="0.6"><circle cx="561.7" cy="301.1" r="0.5"/><circle cx="563.2" cy="297.3" r="0.5"/><circle cx="560.4" cy="297.2" r="0.5"/></g>
<path d="M565.8 351.2V301.9h1.1V351.2zM566.7 351.2V298.4h1.1V351.2zM567.5 351.2V288.4h1.1V351.2zM568.4 351.2V284.5h1.1V351.2zM569.2 351.2V289.8h1.1V351.2zM570.1 351.2V292.4h1.1V351.2zM570.9 351.2V286.3h1.1V351.2zM571.8 351.2V290.0h1.1V351.2zM572.6 351.2V300.6h1.1V351.2z" fill="#4ea42e"/>
<rect x="566.0" y="306.3" width="7.6" height="44.9" fill="#4ea42e"/>
<g fill="#4ea42e"><circle cx="570.3" cy="276.8" r="1.05"/><circle cx="572.4" cy="289.7" r="1.05"/><circle cx="572.0" cy="287.2" r="1.05"/><circle cx="570.9" cy="288.1" r="1.05"/><circle cx="569.1" cy="283.5" r="1.05"/><circle cx="567.4" cy="285.6" r="1.05"/><circle cx="569.6" cy="280.5" r="1.05"/><circle cx="567.1" cy="286.2" r="1.05"/><circle cx="571.0" cy="286.3" r="1.05"/><circle cx="572.4" cy="286.4" r="1.05"/><circle cx="569.4" cy="285.1" r="1.05"/></g>
<g fill="#fff" fill-opacity="0.6"><circle cx="569.3" cy="303.2" r="0.5"/><circle cx="572.0" cy="296.8" r="0.5"/><circle cx="571.1" cy="297.9" r="0.5"/></g>
<rect x="146.1" y="265.6" width="2.4" height="36.6" rx="0.9" fill="#2b2bd8"/>
<rect x="146.4" y="255.4" width="1.8" height="10.2" rx="0.9" fill="#2b2bd8"/>
<circle cx="147.3" cy="215.4" r="1.25" fill="#2b2bd8"/>
<circle cx="147.3" cy="211.6" r="1.25" fill="#2b2bd8"/>
<circle cx="134.8" cy="276.4" r="1.25" fill="#2b2bd8"/>
<circle cx="140.5" cy="282.5" r="1.25" fill="#2b2bd8"/>
<circle cx="140.8" cy="269.0" r="1.25" fill="#2b2bd8"/>
<circle cx="143.2" cy="267.6" r="1.25" fill="#2b2bd8"/>
<circle cx="144.2" cy="270.3" r="1.25" fill="#2b2bd8"/>
<circle cx="150.6" cy="270.3" r="1.25" fill="#2b2bd8"/>
<circle cx="151.5" cy="273.7" r="1.25" fill="#2b2bd8"/>
<circle cx="140.6" cy="288.6" r="1.25" fill="#2b2bd8"/>
<circle cx="150.2" cy="283.2" r="1.25" fill="#2b2bd8"/>
<circle cx="151.3" cy="285.9" r="1.25" fill="#2b2bd8"/>
<rect x="157.1" y="273.7" width="2.2" height="28.5" rx="0.9" fill="#2b2bd8"/>
<rect x="157.2" y="256.7" width="2.0" height="13.6" rx="0.9" fill="#2b2bd8"/>
<rect x="157.2" y="239.8" width="2.0" height="10.9" rx="0.9" fill="#2b2bd8"/>
<rect x="157.2" y="231.0" width="2.0" height="6.8" rx="0.9" fill="#2b2bd8"/>
<circle cx="158.2" cy="223.5" r="1.25" fill="#2b2bd8"/>
<circle cx="169.8" cy="273.0" r="1.25" fill="#2b2bd8"/>
<circle cx="171.0" cy="273.7" r="1.25" fill="#2b2bd8"/>
<circle cx="166.2" cy="280.5" r="1.25" fill="#2b2bd8"/>
<circle cx="166.9" cy="283.2" r="1.25" fill="#2b2bd8"/>
<circle cx="172.6" cy="274.4" r="1.25" fill="#b01a33"/>
<circle cx="174.2" cy="275.7" r="1.25" fill="#b01a33"/>
<circle cx="175.0" cy="277.8" r="1.25" fill="#b01a33"/>
<circle cx="173.6" cy="279.1" r="1.25" fill="#b01a33"/>
<rect x="181.5" y="275.7" width="2.6" height="26.5" rx="0.9" fill="#b01a33"/>
<circle cx="182.8" cy="269.6" r="1.25" fill="#b01a33"/>
<circle cx="182.8" cy="272.4" r="1.25" fill="#b01a33"/>
<rect x="173.1" y="283.2" width="2.2" height="19.0" rx="0.9" fill="#b01a33"/>
<rect x="179.8" y="281.9" width="2.0" height="20.4" rx="0.9" fill="#b01a33"/>
<rect x="198.1" y="279.8" width="2.6" height="22.4" rx="0.9" fill="#b01a33"/>
<circle cx="199.2" cy="276.4" r="1.25" fill="#b01a33"/>
<rect x="191.9" y="285.2" width="2.2" height="17.0" rx="0.9" fill="#b01a33"/>
<rect x="201.0" y="283.2" width="2.0" height="19.0" rx="0.9" fill="#b01a33"/>
<rect x="204.5" y="285.9" width="2.0" height="16.3" rx="0.9" fill="#b01a33"/>
<rect x="220.0" y="266.9" width="2.4" height="35.3" rx="0.9" fill="#07665f"/>
<circle cx="218.0" cy="273.7" r="1.25" fill="#07665f"/>
<circle cx="219.0" cy="276.4" r="1.25" fill="#07665f"/>
<circle cx="225.0" cy="277.1" r="1.25" fill="#07665f"/>
<circle cx="224.2" cy="280.5" r="1.25" fill="#07665f"/>
<circle cx="213.0" cy="283.2" r="1.25" fill="#07665f"/>
<circle cx="212.0" cy="287.3" r="1.25" fill="#07665f"/>
<circle cx="238.0" cy="284.6" r="1.25" fill="#07665f"/>
<rect x="229.3" y="247.9" width="2.4" height="54.3" rx="0.9" fill="#07665f"/>
<rect x="229.3" y="203.1" width="2.4" height="7.5" rx="0.9" fill="#07665f"/>
<rect x="229.3" y="193.0" width="2.4" height="6.8" rx="0.9" fill="#07665f"/>
<rect x="229.3" y="182.1" width="2.4" height="4.1" rx="0.9" fill="#07665f"/>
<rect x="229.3" y="171.3" width="2.4" height="7.5" rx="0.9" fill="#07665f"/>
<rect x="229.3" y="163.8" width="2.4" height="5.4" rx="0.9" fill="#07665f"/>
<rect x="265.1" y="272.4" width="2.2" height="29.9" rx="0.9" fill="#563207"/>
<circle cx="266.2" cy="270.3" r="1.25" fill="#563207"/>
<circle cx="240.5" cy="283.9" r="1.25" fill="#563207"/>
<circle cx="242.0" cy="285.9" r="1.25" fill="#563207"/>
<circle cx="246.5" cy="282.5" r="1.25" fill="#563207"/>
<circle cx="251.0" cy="284.6" r="1.25" fill="#563207"/>
<circle cx="256.5" cy="279.1" r="1.25" fill="#563207"/>
<circle cx="258.0" cy="283.2" r="1.25" fill="#563207"/>
<circle cx="262.0" cy="281.9" r="1.25" fill="#563207"/>
<rect x="275.3" y="227.4" width="2.2" height="72.6" rx="1" fill="#a046de"/>
<rect x="275.3" y="221.2" width="2.2" height="3.1" rx="1" fill="#a046de"/>
<rect x="275.3" y="216.6" width="2.2" height="2.3" rx="1" fill="#a046de"/>
<rect x="275.3" y="183.3" width="2.2" height="30.2" rx="1" fill="#a046de"/>
<rect x="275.3" y="141.4" width="2.2" height="38.1" rx="1" fill="#a046de"/>
<rect x="275.4" y="127.2" width="2.0" height="14.9" rx="0.9" fill="#9a3fdc"/>
<circle cx="276.4" cy="112.9" r="1.2" fill="#9a3fdc"/>
<circle cx="276.4" cy="99.3" r="1.2" fill="#9a3fdc"/>
<rect x="275.4" y="83.0" width="2.0" height="8.8" rx="0.9" fill="#9a3fdc"/>
<circle cx="276.4" cy="39.6" r="1.3" fill="#9a3fdc"/>
<circle cx="276.4" cy="35.4" r="1.3" fill="#9a3fdc"/>
<circle cx="269.3" cy="279.1" r="1.25" fill="#9a3fdc"/>
<circle cx="270.0" cy="283.2" r="1.25" fill="#9a3fdc"/>
<circle cx="280.5" cy="285.2" r="1.25" fill="#9a3fdc"/>
<circle cx="287.7" cy="259.5" r="1.25" fill="#9a3fdc"/>
<circle cx="283.0" cy="287.3" r="1.25" fill="#9a3fdc"/>
<circle cx="292.5" cy="285.9" r="1.25" fill="#9a3fdc"/>
<circle cx="294.0" cy="283.9" r="1.25" fill="#9a3fdc"/>
<rect x="303.7" y="260.1" width="2.0" height="42.1" rx="0.9" fill="#7e8b21"/>
<circle cx="304.7" cy="256.1" r="1.25" fill="#7e8b21"/>
<circle cx="304.7" cy="252.0" r="1.25" fill="#7e8b21"/>
<circle cx="296.5" cy="261.5" r="1.25" fill="#7e8b21"/>
<circle cx="310.8" cy="269.6" r="1.25" fill="#7e8b21"/>
<circle cx="300.0" cy="280.5" r="1.25" fill="#7e8b21"/>
<circle cx="316.0" cy="277.8" r="1.25" fill="#7e8b21"/>
<circle cx="317.5" cy="279.8" r="1.25" fill="#7e8b21"/>
<circle cx="320.0" cy="281.9" r="1.25" fill="#7e8b21"/>
<rect x="298.8" y="281.9" width="2.0" height="20.4" rx="0.9" fill="#7e8b21"/>
<rect x="315.8" y="280.5" width="2.0" height="21.7" rx="0.9" fill="#7e8b21"/>
<circle cx="335.3" cy="271.7" r="1.25" fill="#2396f6"/>
<circle cx="338.8" cy="273.7" r="1.25" fill="#2396f6"/>
<circle cx="341.0" cy="272.4" r="1.25" fill="#2396f6"/>
<circle cx="346.0" cy="269.6" r="1.25" fill="#2396f6"/>
<circle cx="334.8" cy="277.8" r="1.25" fill="#2396f6"/>
<circle cx="339.0" cy="279.1" r="1.25" fill="#2396f6"/>
<circle cx="343.5" cy="277.1" r="1.25" fill="#2396f6"/>
<circle cx="345.0" cy="279.1" r="1.25" fill="#2396f6"/>
<circle cx="326.0" cy="281.9" r="1.25" fill="#2396f6"/>
<circle cx="330.0" cy="280.5" r="1.25" fill="#2396f6"/>
<circle cx="323.5" cy="279.8" r="1.25" fill="#2396f6"/>
<rect x="328.8" y="283.2" width="2.0" height="19.0" rx="0.9" fill="#2396f6"/>
<rect x="339.5" y="281.9" width="2.0" height="20.4" rx="0.9" fill="#2396f6"/>
<rect x="351.8" y="271.7" width="2.0" height="30.5" rx="0.9" fill="#b26089"/>
<circle cx="352.8" cy="269.0" r="1.25" fill="#b26089"/>
<circle cx="348.5" cy="276.4" r="1.25" fill="#b26089"/>
<circle cx="349.5" cy="272.4" r="1.25" fill="#b26089"/>
<circle cx="358.0" cy="283.2" r="1.25" fill="#b26089"/>
<circle cx="363.5" cy="282.5" r="1.25" fill="#b26089"/>
<circle cx="364.5" cy="285.9" r="1.25" fill="#b26089"/>
<circle cx="370.4" cy="276.4" r="1.25" fill="#d4770c"/>
<circle cx="370.4" cy="287.3" r="1.25" fill="#d4770c"/>
<circle cx="384.4" cy="269.6" r="1.25" fill="#d4770c"/>
<circle cx="385.6" cy="272.4" r="1.25" fill="#d4770c"/>
<circle cx="382.0" cy="287.3" r="1.25" fill="#d4770c"/>
<circle cx="387.5" cy="283.2" r="1.25" fill="#d4770c"/>
<circle cx="388.0" cy="279.1" r="1.25" fill="#d4770c"/>
<circle cx="394.3" cy="270.3" r="1.25" fill="#4ea42e"/>
<circle cx="391.0" cy="275.1" r="1.25" fill="#4ea42e"/>
<circle cx="392.2" cy="279.1" r="1.25" fill="#4ea42e"/>
<circle cx="395.5" cy="279.1" r="1.25" fill="#4ea42e"/>
<circle cx="398.0" cy="281.2" r="1.25" fill="#4ea42e"/>
<circle cx="390.5" cy="279.8" r="1.25" fill="#4ea42e"/>
<rect x="402.6" y="273.7" width="2.0" height="28.5" rx="0.9" fill="#4ea42e"/>
<circle cx="403.6" cy="271.7" r="1.25" fill="#4ea42e"/>
<rect x="397.0" y="283.2" width="2.0" height="19.0" rx="0.9" fill="#4ea42e"/>
<circle cx="416.2" cy="260.1" r="1.25" fill="#b58ff0"/>
<circle cx="416.2" cy="265.6" r="1.25" fill="#b58ff0"/>
<circle cx="417.5" cy="277.8" r="1.25" fill="#b58ff0"/>
<circle cx="412.0" cy="283.2" r="1.25" fill="#b58ff0"/>
<circle cx="420.0" cy="283.2" r="1.25" fill="#b58ff0"/>
<rect x="427.8" y="252.0" width="2.0" height="50.2" rx="0.9" fill="#b58ff0"/>
<circle cx="428.8" cy="241.8" r="1.25" fill="#b58ff0"/>
<rect x="424.2" y="269.6" width="2.4" height="32.6" rx="0.9" fill="#b58ff0"/>
<rect x="422.0" y="279.1" width="2.0" height="23.1" rx="0.9" fill="#b58ff0"/>
<rect x="416.7" y="280.5" width="1.8" height="21.7" rx="0.9" fill="#b58ff0"/>
<rect x="442.3" y="224.9" width="2.2" height="77.3" rx="0.9" fill="#fbdc0c"/>
<circle cx="436.0" cy="283.2" r="1.25" fill="#fbdc0c"/>
<circle cx="438.5" cy="281.9" r="1.25" fill="#fbdc0c"/>
<circle cx="440.5" cy="281.2" r="1.25" fill="#fbdc0c"/>
<circle cx="446.5" cy="281.9" r="1.25" fill="#fbdc0c"/>
<circle cx="448.5" cy="283.2" r="1.25" fill="#fbdc0c"/>
<circle cx="433.5" cy="284.6" r="1.25" fill="#fbdc0c"/>
<rect x="440.0" y="283.2" width="2.0" height="19.0" rx="0.9" fill="#fbdc0c"/>
<rect x="444.8" y="283.2" width="2.0" height="19.0" rx="0.9" fill="#fbdc0c"/>
<circle cx="455.0" cy="279.1" r="1.25" fill="#2b2bd8"/>
<circle cx="456.6" cy="279.8" r="1.25" fill="#2b2bd8"/>
<circle cx="457.8" cy="283.2" r="1.25" fill="#2b2bd8"/>
<circle cx="461.5" cy="284.6" r="1.25" fill="#2b2bd8"/>
<circle cx="463.0" cy="288.6" r="1.25" fill="#2b2bd8"/>
<circle cx="468.0" cy="284.6" r="1.25" fill="#2b2bd8"/>
<rect x="455.7" y="284.6" width="2.2" height="17.6" rx="0.9" fill="#2b2bd8"/>
<circle cx="472.3" cy="274.4" r="1.25" fill="#b01a33"/>
<circle cx="482.8" cy="272.4" r="1.25" fill="#b01a33"/>
<circle cx="481.0" cy="279.8" r="1.25" fill="#b01a33"/>
<circle cx="483.6" cy="279.8" r="1.25" fill="#b01a33"/>
<circle cx="473.5" cy="285.9" r="1.25" fill="#b01a33"/>
<circle cx="477.0" cy="290.0" r="1.25" fill="#b01a33"/>
<circle cx="490.4" cy="254.7" r="1.25" fill="#07665f"/>
<rect x="497.4" y="275.1" width="2.4" height="27.1" rx="0.9" fill="#07665f"/>
<circle cx="498.6" cy="273.0" r="1.25" fill="#07665f"/>
<circle cx="490.0" cy="284.6" r="1.25" fill="#07665f"/>
<circle cx="494.0" cy="285.9" r="1.25" fill="#07665f"/>
<circle cx="497.0" cy="280.5" r="1.25" fill="#07665f"/>
<circle cx="509.7" cy="267.6" r="1.25" fill="#563207"/>
<circle cx="514.7" cy="268.3" r="1.25" fill="#563207"/>
<circle cx="510.0" cy="281.9" r="1.25" fill="#563207"/>
<circle cx="512.0" cy="287.3" r="1.25" fill="#563207"/>
<rect x="503.3" y="279.1" width="2.4" height="23.1" rx="0.9" fill="#563207"/>
<rect x="510.0" y="275.7" width="2.0" height="26.5" rx="0.9" fill="#563207"/>
<rect x="520.1" y="229.6" width="2.6" height="72.6" rx="0.9" fill="#9a3fdc"/>
<rect x="523.4" y="279.1" width="2.2" height="23.1" rx="0.9" fill="#9a3fdc"/>
<rect x="518.0" y="283.2" width="2.0" height="19.0" rx="0.9" fill="#9a3fdc"/>
<circle cx="515.0" cy="287.3" r="1.25" fill="#9a3fdc"/>
<circle cx="516.5" cy="281.9" r="1.25" fill="#9a3fdc"/>
<circle cx="517.8" cy="283.2" r="1.25" fill="#9a3fdc"/>
<rect x="535.5" y="276.4" width="2.2" height="25.8" rx="0.9" fill="#7e8b21"/>
<rect x="529.3" y="284.6" width="2.4" height="17.6" rx="0.9" fill="#7e8b21"/>
<circle cx="534.8" cy="277.8" r="1.25" fill="#7e8b21"/>
<circle cx="529.5" cy="285.9" r="1.25" fill="#7e8b21"/>
<circle cx="541.8" cy="265.6" r="1.25" fill="#2396f6"/>
<circle cx="547.0" cy="255.1" r="1.25" fill="#2396f6"/>
<circle cx="539.2" cy="276.4" r="1.25" fill="#2396f6"/>
<circle cx="540.5" cy="277.8" r="1.25" fill="#2396f6"/>
<circle cx="543.0" cy="275.7" r="1.25" fill="#2396f6"/>
<circle cx="545.2" cy="274.4" r="1.25" fill="#2396f6"/>
<circle cx="539.0" cy="281.9" r="1.25" fill="#2396f6"/>
<circle cx="547.5" cy="285.9" r="1.25" fill="#2396f6"/>
<circle cx="544.0" cy="283.2" r="1.25" fill="#2396f6"/>
<circle cx="541.5" cy="282.5" r="1.25" fill="#2396f6"/>
<rect x="541.3" y="284.6" width="2.4" height="17.6" rx="0.9" fill="#2396f6"/>
<circle cx="556.1" cy="239.8" r="1.15" fill="#b26089"/>
<circle cx="556.1" cy="241.8" r="1.15" fill="#b26089"/>
<circle cx="556.1" cy="243.9" r="1.15" fill="#b26089"/>
<circle cx="556.1" cy="245.9" r="1.15" fill="#b26089"/>
<circle cx="556.1" cy="256.7" r="1.15" fill="#b26089"/>
<circle cx="556.1" cy="260.1" r="1.15" fill="#b26089"/>
<circle cx="556.1" cy="280.5" r="1.15" fill="#b26089"/>
<circle cx="554.8" cy="280.5" r="1.25" fill="#b26089"/>
<rect x="555.1" y="285.9" width="2.0" height="16.3" rx="0.9" fill="#b26089"/>
<rect x="560.3" y="287.3" width="2.4" height="14.9" rx="0.9" fill="#d4770c"/>
<circle cx="560.0" cy="288.6" r="1.25" fill="#d4770c"/>
<circle cx="563.5" cy="290.0" r="1.25" fill="#d4770c"/>
<circle cx="564.5" cy="294.1" r="1.25" fill="#d4770c"/>
<circle cx="568.1" cy="270.3" r="1.25" fill="#4ea42e"/>
<rect x="570.5" y="285.2" width="2.0" height="17.0" rx="0.9" fill="#4ea42e"/>
<rect x="567.5" y="288.6" width="2.0" height="13.6" rx="0.9" fill="#4ea42e"/>
<line x1="131.5" y1="251.3" x2="575.4" y2="251.3" stroke="#8c8c8c" stroke-width="0.9"/>
<rect x="271.6" y="80.8" width="8.6" height="59.4" rx="2" fill="none" stroke="#111" stroke-width="1.5" stroke-dasharray="1.6 2.55"/>
</g>
<defs>
<linearGradient id="fadeL" gradientUnits="userSpaceOnUse" x1="272" y1="141" x2="121" y2="399"><stop offset="0" stop-color="#8fa5d6" stop-opacity="0.1"/><stop offset="0.22" stop-color="#8fa5d6" stop-opacity="0.55"/><stop offset="0.45" stop-color="#8fa5d6" stop-opacity="1"/><stop offset="1" stop-color="#8fa5d6" stop-opacity="1"/></linearGradient>
<linearGradient id="fadeR" gradientUnits="userSpaceOnUse" x1="280" y1="141" x2="586" y2="399"><stop offset="0" stop-color="#8fa5d6" stop-opacity="0.1"/><stop offset="0.22" stop-color="#8fa5d6" stop-opacity="0.55"/><stop offset="0.45" stop-color="#8fa5d6" stop-opacity="1"/><stop offset="1" stop-color="#8fa5d6" stop-opacity="1"/></linearGradient>
</defs>
<g id="panelB">
<line x1="272" y1="141" x2="120.8" y2="399" stroke="url(#fadeL)" stroke-width="1.3"/>
<line x1="280" y1="141" x2="586.2" y2="399" stroke="url(#fadeR)" stroke-width="1.3"/>
<text transform="translate(31.4,13.7) scale(0.85,1)" font-size="20.6" fill="#111">A</text>
<text transform="translate(31.0,415.6) scale(0.85,1)" font-size="20.6" fill="#111">B</text>
<rect x="116.8" y="399" width="475.2" height="98.2" rx="7" fill="#eef1f8" stroke="#8fa5d6" stroke-width="1.3"/>
<polygon points="326.6,462.3 411.2,462.3 592,532 116.8,532" fill="#b7c1d5" fill-opacity="0.5"/>
<text x="128" y="415.2" font-size="9" font-style="italic" fill="#222">ISL1</text>
<line x1="127.3" y1="451.4" x2="566" y2="451.4" stroke="#555" stroke-width="0.9"/>
<polygon points="569.2,451.4 564.6,448.9 564.6,453.9" fill="#333"/>
<text x="125.4" y="447.4" font-size="9.6" fill="#222">5'</text>
<text x="566.2" y="448.4" font-size="9.6" fill="#222">3'</text>
<rect x="144.9" y="441.5" width="10.5" height="16.9" fill="#a0569a"/>
<text x="153.8" y="437" font-size="6.6" font-weight="bold" text-anchor="middle" fill="#333">Exon 1</text>
<rect x="184.6" y="441.5" width="7.0" height="16.9" fill="#a0569a"/>
<text x="189.7" y="437" font-size="6.6" font-weight="bold" text-anchor="middle" fill="#333">Exon 2</text>
<rect x="290.2" y="441.5" width="8.9" height="16.9" fill="#a0569a"/>
<text x="297.0" y="437" font-size="6.6" font-weight="bold" text-anchor="middle" fill="#333">Exon 3</text>
<rect x="365.4" y="441.5" width="12.6" height="16.9" fill="#a0569a"/>
<text x="371.7" y="437" font-size="6.6" font-weight="bold" text-anchor="middle" fill="#333">Exon 4</text>
<rect x="425.1" y="441.5" width="6.7" height="16.9" fill="#a0569a"/>
<text x="433.0" y="437" font-size="6.6" font-weight="bold" text-anchor="middle" fill="#333">Exon 5</text>
<rect x="504.2" y="441.5" width="45.3" height="16.9" fill="#a0569a"/>
<text x="528.5" y="437" font-size="6.6" font-weight="bold" text-anchor="middle" fill="#333">Exon 6</text>
<text x="169.3" y="471.2" font-size="7.5" text-anchor="middle" fill="#555">Intron 1</text>
<text x="247.5" y="471.2" font-size="7.5" text-anchor="middle" fill="#555">Intron 2</text>
<text x="336.4" y="471.2" font-size="7.5" text-anchor="middle" fill="#555">Intron 3</text>
<text x="405.6" y="471.2" font-size="7.5" text-anchor="middle" fill="#555">Intron 4</text>
<text x="475.3" y="471.2" font-size="7.5" text-anchor="middle" fill="#555">Intron 5</text>
<rect x="326.6" y="424" width="84.6" height="38.2" fill="none" stroke="#222" stroke-width="1.1"/>
<rect x="116.8" y="532.2" width="475.2" height="208.6" fill="#edf3fc" stroke="#222" stroke-width="1.3"/>
<text font-size="11.2" fill="#222"><tspan x="136.2" y="546.4" textLength="58.9" lengthAdjust="spacingAndGlyphs">TSS relative</tspan><tspan x="136.2" y="559.1" textLength="63.2" lengthAdjust="spacingAndGlyphs">position (bp)</tspan></text>
<path d="M147.4 598 V576 Q147.4 567.8 155.6 567.8 H173" fill="none" stroke="#1c1c1c" stroke-width="2"/>
<polygon points="181,567.8 171.4,562.8 171.4,572.8" fill="#1c1c1c"/>
<line x1="127.2" y1="598.3" x2="568" y2="598.3" stroke="#1c1c1c" stroke-width="3"/>
<polygon points="581.4,598.3 566.8,591 566.8,605.6" fill="#1c1c1c"/>
<line x1="172" y1="609" x2="190.6" y2="585.8" stroke="#1c1c1c" stroke-width="2"/>
<line x1="186" y1="609.6" x2="204.6" y2="586.2" stroke="#1c1c1c" stroke-width="2"/>
<text x="126.2" y="588.6" font-size="8.6" fill="#222">5'</text>
<text x="572.6" y="587.0" font-size="8.6" fill="#222">3'</text>
<rect x="340" y="585.3" width="56" height="26" fill="#a0569a" fill-opacity="0.62"/>
<line x1="349.3" y1="585.3" x2="349.3" y2="611.3" stroke="#3cc63c" stroke-width="1"/>
<text x="209.3" y="594.7" font-size="11.1" fill="#222">5028</text>
<text x="310.0" y="594.7" font-size="11.1" fill="#222">5871</text>
<text x="357.8" y="594.7" font-size="11.1" fill="#222">6328</text>
<text x="406.2" y="595.4" font-size="11.1" fill="#222">6610</text>
<text x="458.4" y="595.4" font-size="11.1" fill="#222">7150</text>
<text x="534.3" y="593.4" font-size="11.1" fill="#222">7882</text>
<text x="336.8" y="577" font-size="9.9" fill="#222">rs2303751</text>
<text x="258.4" y="583.5" font-size="7.7" fill="#6a6a6a">Intron 3</text>
<text x="441.6" y="583.2" font-size="7.5" fill="#6a6a6a">Intron 4</text>
<line x1="220.4" y1="601" x2="220.4" y2="718.5" stroke="#222" stroke-width="0.9" stroke-dasharray="1.7 1.4"/>
<line x1="328.6" y1="601" x2="328.6" y2="718.5" stroke="#222" stroke-width="0.9" stroke-dasharray="1.7 1.4"/>
<line x1="361.8" y1="601" x2="361.8" y2="718.5" stroke="#222" stroke-width="0.9" stroke-dasharray="1.7 1.4"/>
<line x1="412.5" y1="601" x2="412.5" y2="718.5" stroke="#222" stroke-width="0.9" stroke-dasharray="1.7 1.4"/>
<line x1="470.3" y1="601" x2="470.3" y2="718.5" stroke="#222" stroke-width="0.9" stroke-dasharray="1.7 1.4"/>
<line x1="553.0" y1="601" x2="553.0" y2="718.5" stroke="#222" stroke-width="0.9" stroke-dasharray="1.7 1.4"/>
<line x1="220.4" y1="623.0" x2="356.8" y2="623.0" stroke="#1414ff" stroke-width="1.3"/>
<polygon points="361.8,623.0 355.40000000000003,619.7 355.40000000000003,626.3" fill="#1414ff"/>
<line x1="225.4" y1="629.9" x2="361.8" y2="629.9" stroke="#ff1414" stroke-width="1.3"/>
<polygon points="220.8,629.9 227.20000000000002,626.6 227.20000000000002,633.1999999999999" fill="#ff1414"/>
<line x1="328.6" y1="639.2" x2="465.3" y2="639.2" stroke="#1414ff" stroke-width="1.3"/>
<polygon points="470.3,639.2 463.90000000000003,635.9000000000001 463.90000000000003,642.5" fill="#1414ff"/>
<line x1="333.6" y1="646.4" x2="470.3" y2="646.4" stroke="#ff1414" stroke-width="1.3"/>
<polygon points="329.0,646.4 335.40000000000003,643.1 335.40000000000003,649.6999999999999" fill="#ff1414"/>
<line x1="412.5" y1="653.0" x2="548.0" y2="653.0" stroke="#1414ff" stroke-width="1.3"/>
<polygon points="553.0,653.0 546.6,649.7 546.6,656.3" fill="#1414ff"/>
<line x1="417.5" y1="660.9" x2="553.0" y2="660.9" stroke="#ff1414" stroke-width="1.3"/>
<polygon points="412.9,660.9 419.3,657.6 419.3,664.1999999999999" fill="#ff1414"/>
<text x="238.9" y="617.8" font-size="7.9" fill="#222">Fragment 1</text>
<text x="365.7" y="633.2" font-size="7.9" fill="#222">Fragment 2</text>
<text x="482.0" y="646.4" font-size="7.9" fill="#222">Fragment 3</text>
<text font-size="11.2" fill="#222"><tspan x="126.8" y="701.4" textLength="61" lengthAdjust="spacingAndGlyphs">chr5 relative</tspan><tspan x="126.8" y="714.2" textLength="39.6" lengthAdjust="spacingAndGlyphs">position</tspan></text>
<line x1="126.8" y1="720.6" x2="575" y2="720.6" stroke="#1c1c1c" stroke-width="1.7"/>
<polygon points="584.2,720.4 573.6,715.1 573.6,725.7" fill="#1c1c1c"/>
<text x="192.6" y="731.9" font-size="11.1" fill="#222">51388476</text>
<text x="527.6" y="732.8" font-size="11.1" fill="#222">51391329</text>
</g>
<defs>
<pattern id="hatR" patternUnits="userSpaceOnUse" width="7.2" height="7.2" patternTransform="translate(0,6.5) rotate(-43)"><rect width="7.2" height="7.2" fill="#fff"/><rect y="0" width="7.2" height="4" fill="#ff0000"/></pattern>
<pattern id="hatB" patternUnits="userSpaceOnUse" width="7.2" height="7.2" patternTransform="translate(0,1) rotate(-43)"><rect width="7.2" height="7.2" fill="#fff"/><rect y="0" width="7.2" height="4" fill="#0000c8"/></pattern>
</defs>
<g id="panelC">
<text transform="translate(31.2,793.5) scale(0.84,1)" font-size="20.6" fill="#111">C</text>
<rect x="62.5" y="986.4" width="22.5" height="27.4" fill="#a5a5aa"/>
<rect x="106.9" y="980.0" width="22.2" height="33.8" fill="#0000ff"/>
<rect x="129.1" y="981.2" width="22.7" height="32.6" fill="#ff0000"/>
<rect x="173.4" y="984.4" width="22.5" height="29.4" fill="#0000ff"/>
<rect x="195.9" y="868.1" width="22.1" height="145.7" fill="#ff0000"/>
<rect x="240.2" y="982.1" width="22.2" height="31.7" fill="#0000ff"/>
<rect x="262.4" y="981.2" width="21.9" height="32.6" fill="#ff0000"/>
<path d="M73.4 981.3V992.1M67.9 981.3h11M67.9 992.1h11" fill="none" stroke="#111" stroke-width="1.1"/>
<path d="M118.0 977.8V982.3M112.8 977.8h10.4M112.8 982.3h10.4" fill="none" stroke="#111" stroke-width="1.1"/>
<path d="M140.4 979.6V982.6M135.20000000000002 979.6h10.4M135.20000000000002 982.6h10.4" fill="none" stroke="#111" stroke-width="1.1"/>
<path d="M184.6 982.2V986.6M179.4 982.2h10.4M179.4 986.6h10.4" fill="none" stroke="#111" stroke-width="1.1"/>
<path d="M206.7 857.7V878.5M201.39999999999998 857.7h10.6M201.39999999999998 878.5h10.6" fill="none" stroke="#111" stroke-width="1.1"/>
<path d="M251.2 976.9V988.0M246.0 976.9h10.4M246.0 988.0h10.4" fill="none" stroke="#111" stroke-width="1.1"/>
<path d="M273.3 977.7V984.7M268.1 977.7h10.4M268.1 984.7h10.4" fill="none" stroke="#111" stroke-width="1.1"/>
<path d="M52 829.7V1013.8H292.5" fill="none" stroke="#111" stroke-width="2"/>
<line x1="43.4" y1="1013.8" x2="52" y2="1013.8" stroke="#111" stroke-width="2"/>
<text x="41.5" y="1018.6" font-size="13.4" font-weight="bold" text-anchor="end" fill="#111">0.0</text>
<line x1="43.4" y1="977.0" x2="52" y2="977.0" stroke="#111" stroke-width="2"/>
<text x="41.5" y="981.8" font-size="13.4" font-weight="bold" text-anchor="end" fill="#111">0.5</text>
<line x1="43.4" y1="940.2" x2="52" y2="940.2" stroke="#111" stroke-width="2"/>
<text x="41.5" y="945.0" font-size="13.4" font-weight="bold" text-anchor="end" fill="#111">1.0</text>
<line x1="43.4" y1="903.4" x2="52" y2="903.4" stroke="#111" stroke-width="2"/>
<text x="41.5" y="908.2" font-size="13.4" font-weight="bold" text-anchor="end" fill="#111">1.5</text>
<line x1="43.4" y1="866.6" x2="52" y2="866.6" stroke="#111" stroke-width="2"/>
<text x="41.5" y="871.4" font-size="13.4" font-weight="bold" text-anchor="end" fill="#111">2.0</text>
<line x1="43.4" y1="829.8" x2="52" y2="829.8" stroke="#111" stroke-width="2"/>
<text x="41.5" y="834.6" font-size="13.4" font-weight="bold" text-anchor="end" fill="#111">2.5</text>
<line x1="73.4" y1="1013.8" x2="73.4" y2="1021.4" stroke="#111" stroke-width="2"/>
<text transform="translate(78.80000000000001,1033.0) rotate(-45)" font-size="14" font-weight="bold" text-anchor="end" fill="#111">pGL3</text>
<line x1="129.1" y1="1013.8" x2="129.1" y2="1021.4" stroke="#111" stroke-width="2"/>
<text transform="translate(134.5,1033.0) rotate(-45)" font-size="14" font-weight="bold" text-anchor="end" fill="#111">Fragment 1</text>
<line x1="195.9" y1="1013.8" x2="195.9" y2="1021.4" stroke="#111" stroke-width="2"/>
<text transform="translate(201.3,1033.0) rotate(-45)" font-size="14" font-weight="bold" text-anchor="end" fill="#111">Fragment 2</text>
<line x1="262.4" y1="1013.8" x2="262.4" y2="1021.4" stroke="#111" stroke-width="2"/>
<text transform="translate(267.79999999999995,1033.0) rotate(-45)" font-size="14" font-weight="bold" text-anchor="end" fill="#111">Fragment 3</text>
<text transform="translate(13.8,921.8) rotate(-90)" font-size="14.7" font-weight="bold" text-anchor="middle" fill="#111">Luciferase intensity</text>
<text x="196" y="837.4" font-size="26.5" font-weight="bold" text-anchor="middle" fill="#111">****</text>
<path d="M188.1 845.6V836.8H204.6V845.6" fill="none" stroke="#111" stroke-width="1.8"/>
<rect x="304.2" y="830.3" width="19.8" height="10" fill="#0000ff"/>
<text x="334.4" y="840.3" font-size="14.8" fill="#111">Forward</text>
<rect x="304.2" y="854.9" width="19.8" height="10" fill="#ff0000"/>
<text x="334.4" y="864.9" font-size="14.8" fill="#111">Flipped</text>
<rect x="304.2" y="879.9" width="19.8" height="10" fill="#a5a5aa"/>
<text x="334.4" y="889.9" font-size="14.8" fill="#111">Control</text>
</g>
<g id="panelD">
<text transform="translate(461.4,793.2) scale(0.84,1)" font-size="20.6" fill="#111">D</text>
<rect x="499.6" y="1000.9" width="26.4" height="16.0" fill="#a5a5aa"/>
<rect x="539.1" y="871.0" width="25.8" height="145.9" fill="#ff0000"/>
<rect x="570.7" y="886.2" width="26.7" height="130.7" fill="url(#hatR)"/>
<path d="M570.7 1016.9V886.2H597.4V1016.9H594.3V890.6H573.6V1016.9z" fill="#ff0000"/>
<rect x="610.2" y="987.0" width="26.4" height="29.9" fill="#0000c8"/>
<rect x="642.7" y="987.4" width="26.3" height="29.5" fill="url(#hatB)"/>
<path d="M642.7 1016.9V987.4H669.0V1016.9H665.9V991.8H645.6V1016.9z" fill="#0000c8"/>
<path d="M513.0 999.6V1002.0M507.0 999.6h12M507.0 1002.0h12" fill="none" stroke="#111" stroke-width="1.1"/>
<path d="M552.1 833.3V908.9M546.0 833.3h12.2M546.0 908.9h12.2" fill="none" stroke="#111" stroke-width="1.1"/>
<path d="M584.1 882.4V889.9M578.0 882.4h12.2M578.0 889.9h12.2" fill="none" stroke="#111" stroke-width="1.1"/>
<path d="M623.3 983.7V990.4M617.1999999999999 983.7h12.2M617.1999999999999 990.4h12.2" fill="none" stroke="#111" stroke-width="1.1"/>
<path d="M655.4 982.6V992.6M649.3 982.6h12.2M649.3 992.6h12.2" fill="none" stroke="#111" stroke-width="1.1"/>
<path d="M487.4 820.7V1016.9H683.5" fill="none" stroke="#111" stroke-width="2"/>
<line x1="478.4" y1="1016.9" x2="487.4" y2="1016.9" stroke="#111" stroke-width="2"/>
<text x="476.0" y="1021.9" font-size="14.2" font-weight="bold" text-anchor="end" fill="#111">0.0</text>
<line x1="478.4" y1="977.9" x2="487.4" y2="977.9" stroke="#111" stroke-width="2"/>
<text x="476.0" y="982.9" font-size="14.2" font-weight="bold" text-anchor="end" fill="#111">0.2</text>
<line x1="478.4" y1="938.9" x2="487.4" y2="938.9" stroke="#111" stroke-width="2"/>
<text x="476.0" y="943.9" font-size="14.2" font-weight="bold" text-anchor="end" fill="#111">0.4</text>
<line x1="478.4" y1="899.8" x2="487.4" y2="899.8" stroke="#111" stroke-width="2"/>
<text x="476.0" y="904.8" font-size="14.2" font-weight="bold" text-anchor="end" fill="#111">0.6</text>
<line x1="478.4" y1="860.8" x2="487.4" y2="860.8" stroke="#111" stroke-width="2"/>
<text x="476.0" y="865.8" font-size="14.2" font-weight="bold" text-anchor="end" fill="#111">0.8</text>
<line x1="478.4" y1="821.8" x2="487.4" y2="821.8" stroke="#111" stroke-width="2"/>
<text x="476.0" y="826.8" font-size="14.2" font-weight="bold" text-anchor="end" fill="#111">1.0</text>
<line x1="513.0" y1="1016.9" x2="513.0" y2="1025.6" stroke="#111" stroke-width="2"/>
<text transform="translate(519.0,1037.6) rotate(-45)" font-size="14.8" font-weight="bold" text-anchor="end" fill="#111">pGL3</text>
<line x1="552.1" y1="1016.9" x2="552.1" y2="1025.6" stroke="#111" stroke-width="2"/>
<text transform="translate(558.1,1037.6) rotate(-45)" font-size="14.8" font-weight="bold" text-anchor="end" fill="#111">Fragment 2 Flipped A</text>
<line x1="584.1" y1="1016.9" x2="584.1" y2="1025.6" stroke="#111" stroke-width="2"/>
<text transform="translate(590.1,1037.6) rotate(-45)" font-size="14.8" font-weight="bold" text-anchor="end" fill="#111">Fragment 2 Flipped A&gt;G</text>
<line x1="623.4" y1="1016.9" x2="623.4" y2="1025.6" stroke="#111" stroke-width="2"/>
<text transform="translate(629.4,1037.6) rotate(-45)" font-size="14.8" font-weight="bold" text-anchor="end" fill="#111">Fragment 2 Forward A</text>
<line x1="655.5" y1="1016.9" x2="655.5" y2="1025.6" stroke="#111" stroke-width="2"/>
<text transform="translate(661.5,1037.6) rotate(-45)" font-size="14.8" font-weight="bold" text-anchor="end" fill="#111">Fragment 2 Forward A&gt;G</text>
<text transform="translate(446.2,919.2) rotate(-90)" font-size="15.6" font-weight="bold" text-anchor="middle" fill="#111">Luciferase intensity</text>
<text x="567.2" y="786" font-size="15.6" text-anchor="middle" fill="#111">ns</text>
<path d="M549.6 801.6V790.6H584.3V856.4" fill="none" stroke="#111" stroke-width="2"/>
</g>
</svg>
</body></html>
